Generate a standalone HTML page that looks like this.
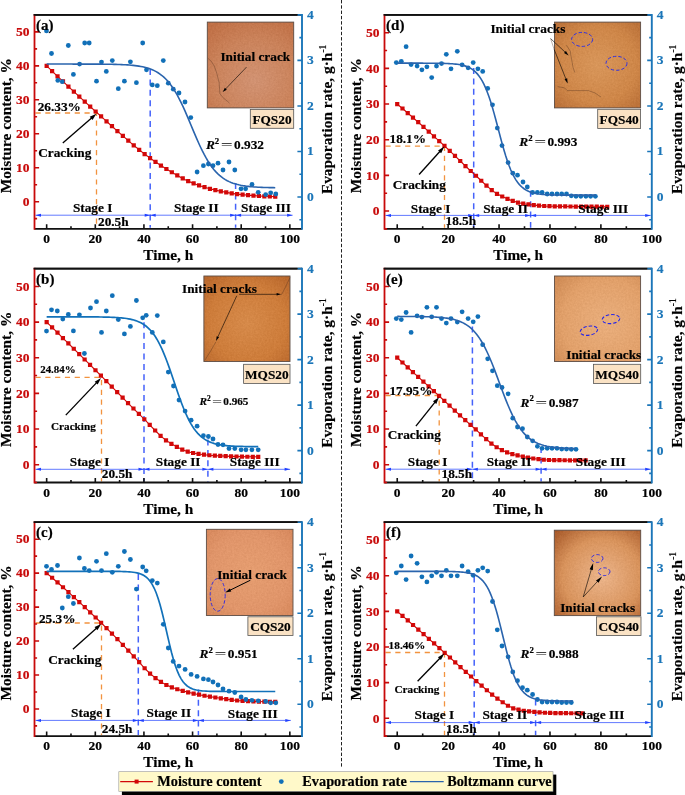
<!DOCTYPE html>
<html><head><meta charset="utf-8"><title>Moisture content and evaporation rate</title>
<style>html,body{margin:0;padding:0;background:#fff}svg{display:block}text{font-family:"Liberation Serif","Times New Roman",serif;font-weight:bold}</style>
</head><body>
<svg width="685" height="795" viewBox="0 0 685 795">
<rect width="685" height="795" fill="#fff"/>
<g id="panel-a">
<defs><radialGradient id="ga" cx="0.55" cy="0.68" r="0.8"><stop offset="0" stop-color="#d19272"/><stop offset="0.6" stop-color="#ca825a"/><stop offset="1" stop-color="#c07046"/></radialGradient></defs>
<filter id="ta" x="0" y="0" width="1" height="1" color-interpolation-filters="sRGB"><feTurbulence type="fractalNoise" baseFrequency="0.55" numOctaves="3" seed="3"/><feColorMatrix type="matrix" values="1 0 0 0 0  1 0 0 0 0  1 0 0 0 0  0 0 0 0 1" result="n"/><feComposite in="SourceGraphic" in2="n" operator="arithmetic" k1="0" k2="1" k3="0.07" k4="-0.035"/></filter>
<rect x="207.3" y="22.1" width="86.4" height="85.8" fill="url(#ga)" filter="url(#ta)"/>
<rect x="207.3" y="22.1" width="86.4" height="85.8" fill="none" stroke="#5e4e46" stroke-width="0.9"/>
<path d="M207.8 58.2Q212 61 214.3 66.2T219.1 82.3L219.9 93.5Q222 97 224.7 99.1T229.5 103.1" fill="none" stroke="#4a2a1a" stroke-width="0.6" opacity="0.6"/>
<rect x="250.3" y="109.4" width="43.4" height="18.9" fill="#fae2c4" stroke="#555" stroke-width="0.8"/>
<text x="272" y="123.5" font-size="13.3" text-anchor="middle" fill="#000" stroke="#000" stroke-width="0.18" >FQS20</text>
<path d="M35.5 113H96.5V227.85" fill="none" stroke="#f2933f" stroke-width="1.3" stroke-dasharray="5.2 4.6"/>
<line x1="150.2" y1="69" x2="150.2" y2="227.85" stroke="#4562fa" stroke-width="1.5" stroke-dasharray="6 4.4"/>
<line x1="235.6" y1="183" x2="235.6" y2="227.85" stroke="#4562fa" stroke-width="1.5" stroke-dasharray="6 4.4"/>
<line x1="35.5" y1="215.2" x2="292.6" y2="215.2" stroke="#2040ff" stroke-width="0.7"/>
<polygon points="35.5,215.2 41,213.7 41,216.7" fill="#2040ff"/>
<polygon points="150.2,215.2 144.7,216.7 144.7,213.7" fill="#2040ff"/>
<polygon points="150.2,215.2 155.7,213.7 155.7,216.7" fill="#2040ff"/>
<polygon points="235.6,215.2 230.1,216.7 230.1,213.7" fill="#2040ff"/>
<polygon points="235.6,215.2 241.1,213.7 241.1,216.7" fill="#2040ff"/>
<polygon points="292.6,215.2 287.1,216.7 287.1,213.7" fill="#2040ff"/>
<polyline points="46.66,65.84 52.1,71.08 57.54,76.28 62.99,81.44 68.43,86.55 73.87,91.63 79.31,96.66 84.76,101.65 90.2,106.59 95.64,111.49 101.09,116.37 106.53,121.29 111.97,126.22 117.41,131.12 122.86,135.95 128.3,140.7 133.74,145.32 139.18,149.78 144.63,154.06 150.07,158.12 155.51,161.96 160.95,165.58 166.4,168.99 171.84,172.23 177.28,175.41 182.73,178.42 188.17,181.13 193.61,183.41 199.05,185.4 204.5,187.19 209.94,188.78 215.38,190.14 220.82,191.31 226.27,192.39 231.71,193.34 237.15,194.12 242.59,194.68 248.04,195.16 253.48,195.61 258.92,196 264.36,196.31 269.81,196.51 275.25,196.59" fill="none" stroke="#d20808" stroke-width="1.1"/>
<path d="M44.56 63.74h4.2v4.2h-4.2zM50 68.98h4.2v4.2h-4.2zM55.44 74.18h4.2v4.2h-4.2zM60.89 79.34h4.2v4.2h-4.2zM66.33 84.45h4.2v4.2h-4.2zM71.77 89.53h4.2v4.2h-4.2zM77.21 94.56h4.2v4.2h-4.2zM82.66 99.55h4.2v4.2h-4.2zM88.1 104.49h4.2v4.2h-4.2zM93.54 109.39h4.2v4.2h-4.2zM98.99 114.27h4.2v4.2h-4.2zM104.43 119.19h4.2v4.2h-4.2zM109.87 124.12h4.2v4.2h-4.2zM115.31 129.02h4.2v4.2h-4.2zM120.76 133.85h4.2v4.2h-4.2zM126.2 138.6h4.2v4.2h-4.2zM131.64 143.22h4.2v4.2h-4.2zM137.08 147.68h4.2v4.2h-4.2zM142.53 151.96h4.2v4.2h-4.2zM147.97 156.02h4.2v4.2h-4.2zM153.41 159.86h4.2v4.2h-4.2zM158.85 163.48h4.2v4.2h-4.2zM164.3 166.89h4.2v4.2h-4.2zM169.74 170.13h4.2v4.2h-4.2zM175.18 173.31h4.2v4.2h-4.2zM180.63 176.32h4.2v4.2h-4.2zM186.07 179.03h4.2v4.2h-4.2zM191.51 181.31h4.2v4.2h-4.2zM196.95 183.3h4.2v4.2h-4.2zM202.4 185.09h4.2v4.2h-4.2zM207.84 186.68h4.2v4.2h-4.2zM213.28 188.04h4.2v4.2h-4.2zM218.72 189.21h4.2v4.2h-4.2zM224.17 190.29h4.2v4.2h-4.2zM229.61 191.24h4.2v4.2h-4.2zM235.05 192.02h4.2v4.2h-4.2zM240.49 192.58h4.2v4.2h-4.2zM245.94 193.06h4.2v4.2h-4.2zM251.38 193.51h4.2v4.2h-4.2zM256.82 193.9h4.2v4.2h-4.2zM262.26 194.21h4.2v4.2h-4.2zM267.71 194.41h4.2v4.2h-4.2zM273.15 194.49h4.2v4.2h-4.2z" fill="#d20808"/>
<g fill="#1170b8">
<circle cx="46.5" cy="30.9" r="2.4"/>
<circle cx="51.5" cy="53.5" r="2.4"/>
<circle cx="57.8" cy="80.4" r="2.4"/>
<circle cx="62.3" cy="81.7" r="2.4"/>
<circle cx="68.3" cy="45.5" r="2.4"/>
<circle cx="73.4" cy="74.4" r="2.4"/>
<circle cx="79.6" cy="64.1" r="2.4"/>
<circle cx="84.7" cy="43" r="2.4"/>
<circle cx="89.2" cy="43" r="2.4"/>
<circle cx="96.5" cy="81.2" r="2.4"/>
<circle cx="101.5" cy="62.1" r="2.4"/>
<circle cx="106.3" cy="71.4" r="2.4"/>
<circle cx="112.3" cy="60.6" r="2.4"/>
<circle cx="118.3" cy="88.7" r="2.4"/>
<circle cx="124.4" cy="81.2" r="2.4"/>
<circle cx="130.4" cy="61.8" r="2.4"/>
<circle cx="136.4" cy="82.7" r="2.4"/>
<circle cx="142.7" cy="43" r="2.4"/>
<circle cx="146.5" cy="69.8" r="2.4"/>
<circle cx="152.3" cy="84.9" r="2.4"/>
<circle cx="157.3" cy="85.7" r="2.4"/>
<circle cx="163.3" cy="60.6" r="2.4"/>
<circle cx="168.3" cy="83.2" r="2.4"/>
<circle cx="173.3" cy="89.2" r="2.4"/>
<circle cx="179" cy="93" r="2.4"/>
<circle cx="185" cy="102" r="2.4"/>
<circle cx="190.8" cy="117.6" r="2.4"/>
<circle cx="197.1" cy="172" r="2.4"/>
<circle cx="203.4" cy="165.7" r="2.4"/>
<circle cx="208.4" cy="164" r="2.4"/>
<circle cx="213" cy="165.7" r="2.4"/>
<circle cx="218" cy="163.2" r="2.4"/>
<circle cx="223" cy="170" r="2.4"/>
<circle cx="229" cy="162" r="2.4"/>
<circle cx="234.8" cy="170" r="2.4"/>
<circle cx="241" cy="188.8" r="2.4"/>
<circle cx="245.6" cy="188.8" r="2.4"/>
<circle cx="252" cy="184.5" r="2.4"/>
<circle cx="258.2" cy="192.3" r="2.4"/>
<circle cx="265.7" cy="194.6" r="2.4"/>
<circle cx="270.7" cy="192.8" r="2.4"/>
<circle cx="275.8" cy="194" r="2.4"/>
</g>
<polyline points="46.66,64.06 48.58,64.06 50.5,64.07 52.42,64.07 54.34,64.07 56.26,64.07 58.18,64.07 60.11,64.07 62.03,64.07 63.95,64.07 65.87,64.07 67.79,64.07 69.71,64.07 71.63,64.07 73.55,64.08 75.47,64.08 77.39,64.08 79.31,64.08 81.24,64.09 83.16,64.09 85.08,64.1 87,64.1 88.92,64.11 90.84,64.11 92.76,64.12 94.68,64.13 96.6,64.14 98.52,64.16 100.45,64.17 102.37,64.19 104.29,64.21 106.21,64.23 108.13,64.26 110.05,64.29 111.97,64.32 113.89,64.37 115.81,64.41 117.73,64.47 119.65,64.54 121.58,64.61 123.5,64.7 125.42,64.8 127.34,64.92 129.26,65.06 131.18,65.21 133.1,65.4 135.02,65.61 136.94,65.85 138.86,66.14 140.78,66.46 142.71,66.84 144.63,67.28 146.55,67.78 148.47,68.35 150.39,69.01 152.31,69.77 154.23,70.64 156.15,71.64 158.07,72.77 159.99,74.05 161.92,75.51 163.84,77.16 165.76,79.01 167.68,81.08 169.6,83.39 171.52,85.94 173.44,88.76 175.36,91.84 177.28,95.18 179.2,98.78 181.12,102.62 183.05,106.68 184.97,110.94 186.89,115.35 188.81,119.88 190.73,124.48 192.65,129.09 194.57,133.66 196.49,138.15 198.41,142.52 200.33,146.71 202.25,150.7 204.18,154.46 206.1,157.97 208.02,161.22 209.94,164.2 211.86,166.93 213.78,169.4 215.7,171.62 217.62,173.61 219.54,175.39 221.46,176.96 223.38,178.36 225.31,179.59 227.23,180.67 229.15,181.62 231.07,182.45 232.99,183.17 234.91,183.8 236.83,184.35 238.75,184.83 240.67,185.24 242.59,185.6 244.52,185.91 246.44,186.18 248.36,186.41 250.28,186.61 252.2,186.79 254.12,186.94 256.04,187.07 257.96,187.18 259.88,187.28 261.8,187.36 263.72,187.43 265.65,187.49 267.57,187.55 269.49,187.59 271.41,187.63 273.33,187.67 275.25,187.7" fill="none" stroke="#2a64ad" stroke-width="1.6"/>
<line x1="34.5" y1="14.9" x2="302" y2="14.9" stroke="#111" stroke-width="1.7"/>
<line x1="34.5" y1="228.85" x2="302" y2="228.85" stroke="#111" stroke-width="1.8"/>
<path d="M46.66 228.85v-4.5M70.98 228.85v-2.5M95.3 228.85v-4.5M119.61 228.85v-2.5M143.93 228.85v-4.5M168.25 228.85v-2.5M192.57 228.85v-4.5M216.89 228.85v-2.5M241.2 228.85v-4.5M265.52 228.85v-2.5M289.84 228.85v-4.5" stroke="#111" stroke-width="1.6" fill="none"/>
<text x="46.66" y="242.85" font-size="13.5" text-anchor="middle" fill="#000" stroke="#000" stroke-width="0.18" >0</text>
<text x="95.3" y="242.85" font-size="13.5" text-anchor="middle" fill="#000" stroke="#000" stroke-width="0.18" >20</text>
<text x="143.93" y="242.85" font-size="13.5" text-anchor="middle" fill="#000" stroke="#000" stroke-width="0.18" >40</text>
<text x="192.57" y="242.85" font-size="13.5" text-anchor="middle" fill="#000" stroke="#000" stroke-width="0.18" >60</text>
<text x="241.2" y="242.85" font-size="13.5" text-anchor="middle" fill="#000" stroke="#000" stroke-width="0.18" >80</text>
<text x="289.84" y="242.85" font-size="13.5" text-anchor="middle" fill="#000" stroke="#000" stroke-width="0.18" >100</text>
<text x="168.25" y="260.05" font-size="15.3" text-anchor="middle" fill="#000" stroke="#000" stroke-width="0.18" >Time, h</text>
<line x1="34.5" y1="14.05" x2="34.5" y2="229.75" stroke="#c80a0a" stroke-width="1.8"/>
<path d="M34.5 218.66h2.6M34.5 201.68h4.6M34.5 184.7h2.6M34.5 167.72h4.6M34.5 150.74h2.6M34.5 133.76h4.6M34.5 116.78h2.6M34.5 99.8h4.6M34.5 82.82h2.6M34.5 65.84h4.6M34.5 48.86h2.6M34.5 31.88h4.6" stroke="#c80a0a" stroke-width="1.6" fill="none"/>
<text x="29.5" y="205.98" font-size="13.5" text-anchor="end" fill="#c80a0a" stroke="#c80a0a" stroke-width="0.18" >0</text>
<text x="29.5" y="172.02" font-size="13.5" text-anchor="end" fill="#c80a0a" stroke="#c80a0a" stroke-width="0.18" >10</text>
<text x="29.5" y="138.06" font-size="13.5" text-anchor="end" fill="#c80a0a" stroke="#c80a0a" stroke-width="0.18" >20</text>
<text x="29.5" y="104.1" font-size="13.5" text-anchor="end" fill="#c80a0a" stroke="#c80a0a" stroke-width="0.18" >30</text>
<text x="29.5" y="70.14" font-size="13.5" text-anchor="end" fill="#c80a0a" stroke="#c80a0a" stroke-width="0.18" >40</text>
<text x="29.5" y="36.18" font-size="13.5" text-anchor="end" fill="#c80a0a" stroke="#c80a0a" stroke-width="0.18" >50</text>
<text x="10.8" y="125.67" font-size="15.4" text-anchor="middle" fill="#000" stroke="#000" stroke-width="0.18" transform="rotate(-90 10.8 125.67)">Moisture content, %</text>
<line x1="302" y1="14.05" x2="302" y2="229.75" stroke="#1b76b9" stroke-width="1.9"/>
<path d="M302 219.75h-2.6M302 196.99h-4.6M302 174.22h-2.6M302 151.46h-4.6M302 128.7h-2.6M302 105.94h-4.6M302 83.18h-2.6M302 60.42h-4.6M302 37.66h-2.6M302 14.9h-4.6" stroke="#1b76b9" stroke-width="1.6" fill="none"/>
<text x="307" y="200.89" font-size="13.5" text-anchor="start" fill="#1b76b9" stroke="#1b76b9" stroke-width="0.18" >0</text>
<text x="307" y="155.36" font-size="13.5" text-anchor="start" fill="#1b76b9" stroke="#1b76b9" stroke-width="0.18" >1</text>
<text x="307" y="109.84" font-size="13.5" text-anchor="start" fill="#1b76b9" stroke="#1b76b9" stroke-width="0.18" >2</text>
<text x="307" y="64.32" font-size="13.5" text-anchor="start" fill="#1b76b9" stroke="#1b76b9" stroke-width="0.18" >3</text>
<text x="307" y="18.8" font-size="13.5" text-anchor="start" fill="#1b76b9" stroke="#1b76b9" stroke-width="0.18" >4</text>
<text x="332" y="119.38" font-size="15.4" text-anchor="middle" fill="#000" stroke="#000" stroke-width="0.18" transform="rotate(-90 332 119.38)">Evaporation rate, g·h<tspan dy="-6.2" font-size="9.5" font-weight="normal">-1</tspan></text>
<line x1="33.6" y1="14.9" x2="297.4" y2="14.9" stroke="#111" stroke-width="1.8"/>
<text x="36.1" y="30" font-size="15" text-anchor="start" fill="#000" stroke="#000" stroke-width="0.18" >(a)</text>
<text x="37.7" y="110.5" font-size="13.3" text-anchor="start" fill="#000" stroke="#000" stroke-width="0.18" >26.33%</text>
<text x="38.2" y="157.4" font-size="13.3" text-anchor="start" fill="#000" stroke="#000" stroke-width="0.18" >Cracking</text>
<text x="72.9" y="212.1" font-size="13.3" text-anchor="start" fill="#000" stroke="#000" stroke-width="0.18" >Stage I</text>
<text x="98" y="226" font-size="13.3" text-anchor="start" fill="#000" stroke="#000" stroke-width="0.18" >20.5h</text>
<text x="174" y="212.1" font-size="13.3" text-anchor="start" fill="#000" stroke="#000" stroke-width="0.18" >Stage II</text>
<text x="241.1" y="212.1" font-size="13.3" text-anchor="start" fill="#000" stroke="#000" stroke-width="0.18" >Stage III</text>
<text x="220.4" y="60.6" font-size="13.3" text-anchor="start" fill="#000" stroke="#000" stroke-width="0.18" >Initial crack</text>
<line x1="62.8" y1="143" x2="91.87" y2="117.74" stroke="#000" stroke-width="1.35"/>
<polygon points="96.4,113.8 92.49,119.98 89.74,116.81" fill="#000"/>
<line x1="246.5" y1="67.1" x2="225.12" y2="89.47" stroke="#000" stroke-width="0.6"/>
<polygon points="222.7,92 224.87,87.85 226.75,89.65" fill="#000"/>
<text x="205.9" y="149.3" font-size="13.3" text-anchor="start" fill="#000" stroke="#000" stroke-width="0.18" ><tspan font-style="italic">R</tspan><tspan dy="-5.32" font-size="8.78">2</tspan><tspan dy="5.32" dx="1.6" font-weight="normal" stroke="none" textLength="11.97" lengthAdjust="spacingAndGlyphs">=</tspan><tspan dx="1.33">0.932</tspan></text>
</g>
<g id="panel-d">
<defs><radialGradient id="gd" cx="0.5" cy="0.5" r="0.75"><stop offset="0" stop-color="#d8965a"/><stop offset="0.6" stop-color="#ce8648"/><stop offset="1" stop-color="#b46a34"/></radialGradient></defs>
<filter id="td" x="0" y="0" width="1" height="1" color-interpolation-filters="sRGB"><feTurbulence type="fractalNoise" baseFrequency="0.55" numOctaves="3" seed="3"/><feColorMatrix type="matrix" values="1 0 0 0 0  1 0 0 0 0  1 0 0 0 0  0 0 0 0 1" result="n"/><feComposite in="SourceGraphic" in2="n" operator="arithmetic" k1="0" k2="1" k3="0.07" k4="-0.035"/></filter>
<rect x="554.5" y="22.1" width="86.1" height="85.8" fill="url(#gd)" filter="url(#td)"/>
<rect x="554.5" y="22.1" width="86.1" height="85.8" fill="none" stroke="#5e4e46" stroke-width="0.9"/>
<path d="M566.4 45.2L570.4 51.4L570.8 54.9L573 67.3L574.8 72.5" fill="none" stroke="#4a2a1a" stroke-width="0.6" opacity="0.6"/>
<path d="M557.6 86.6L564.6 87.9L567.3 90.6L588.4 90.6Q595 92 601 97" fill="none" stroke="#4a2a1a" stroke-width="0.6" opacity="0.6"/>
<path d="M550.6 38.6L554.2 49.5" fill="none" stroke="#4a2a1a" stroke-width="0.6" opacity="0.6"/>
<ellipse cx="582.1" cy="39.4" rx="10.5" ry="7" transform="rotate(0 582.1 39.4)" fill="none" stroke="#3030e0" stroke-width="1.0" stroke-dasharray="3.4 2"/>
<ellipse cx="616.5" cy="63.3" rx="10.5" ry="7" transform="rotate(0 616.5 63.3)" fill="none" stroke="#3030e0" stroke-width="1.0" stroke-dasharray="3.4 2"/>
<rect x="597.7" y="109.3" width="42.9" height="19.1" fill="#fae2c4" stroke="#555" stroke-width="0.8"/>
<text x="619.15" y="123.6" font-size="13.3" text-anchor="middle" fill="#000" stroke="#000" stroke-width="0.18" >FQS40</text>
<path d="M385.5 146.1H444.5V227.85" fill="none" stroke="#f2933f" stroke-width="1.3" stroke-dasharray="5.2 4.6"/>
<line x1="473.7" y1="68" x2="473.7" y2="227.85" stroke="#4562fa" stroke-width="1.5" stroke-dasharray="6 4.4"/>
<line x1="530.6" y1="190.8" x2="530.6" y2="227.85" stroke="#4562fa" stroke-width="1.5" stroke-dasharray="6 4.4"/>
<line x1="385.5" y1="215.4" x2="650.7" y2="215.4" stroke="#2040ff" stroke-width="0.7"/>
<polygon points="385.5,215.4 391,213.9 391,216.9" fill="#2040ff"/>
<polygon points="473.7,215.4 468.2,216.9 468.2,213.9" fill="#2040ff"/>
<polygon points="473.7,215.4 479.2,213.9 479.2,216.9" fill="#2040ff"/>
<polygon points="530.6,215.4 525.1,216.9 525.1,213.9" fill="#2040ff"/>
<polygon points="530.6,215.4 536.1,213.9 536.1,216.9" fill="#2040ff"/>
<polygon points="650.7,215.4 645.2,216.9 645.2,213.9" fill="#2040ff"/>
<polyline points="397.23,104.05 402.48,108.52 407.73,113.04 412.98,117.61 418.23,122.22 423.48,126.88 428.73,131.58 433.98,136.32 439.23,141.1 444.48,145.91 449.73,150.84 454.98,155.91 460.24,161.01 465.49,166.07 470.74,170.99 475.99,175.75 481.24,180.74 486.49,185.68 491.74,190.18 496.99,193.85 502.24,196.51 507.49,198.86 512.74,200.89 517.99,202.53 523.24,203.69 528.49,204.44 533.74,205.08 538.99,205.61 544.24,205.99 549.49,206.2 554.74,206.29 560,206.38 565.25,206.46 570.5,206.52 575.75,206.58 581,206.63 586.25,206.67 591.5,206.7 596.75,206.72 602,206.74 607.25,206.74" fill="none" stroke="#d20808" stroke-width="1.1"/>
<path d="M395.13 101.95h4.2v4.2h-4.2zM400.38 106.42h4.2v4.2h-4.2zM405.63 110.94h4.2v4.2h-4.2zM410.88 115.51h4.2v4.2h-4.2zM416.13 120.12h4.2v4.2h-4.2zM421.38 124.78h4.2v4.2h-4.2zM426.63 129.48h4.2v4.2h-4.2zM431.88 134.22h4.2v4.2h-4.2zM437.13 139h4.2v4.2h-4.2zM442.38 143.81h4.2v4.2h-4.2zM447.63 148.74h4.2v4.2h-4.2zM452.88 153.81h4.2v4.2h-4.2zM458.13 158.91h4.2v4.2h-4.2zM463.39 163.97h4.2v4.2h-4.2zM468.64 168.89h4.2v4.2h-4.2zM473.89 173.65h4.2v4.2h-4.2zM479.14 178.64h4.2v4.2h-4.2zM484.39 183.58h4.2v4.2h-4.2zM489.64 188.08h4.2v4.2h-4.2zM494.89 191.75h4.2v4.2h-4.2zM500.14 194.41h4.2v4.2h-4.2zM505.39 196.76h4.2v4.2h-4.2zM510.64 198.79h4.2v4.2h-4.2zM515.89 200.43h4.2v4.2h-4.2zM521.14 201.59h4.2v4.2h-4.2zM526.39 202.34h4.2v4.2h-4.2zM531.64 202.98h4.2v4.2h-4.2zM536.89 203.51h4.2v4.2h-4.2zM542.14 203.89h4.2v4.2h-4.2zM547.39 204.1h4.2v4.2h-4.2zM552.64 204.19h4.2v4.2h-4.2zM557.9 204.28h4.2v4.2h-4.2zM563.15 204.36h4.2v4.2h-4.2zM568.4 204.42h4.2v4.2h-4.2zM573.65 204.48h4.2v4.2h-4.2zM578.9 204.53h4.2v4.2h-4.2zM584.15 204.57h4.2v4.2h-4.2zM589.4 204.6h4.2v4.2h-4.2zM594.65 204.62h4.2v4.2h-4.2zM599.9 204.64h4.2v4.2h-4.2zM605.15 204.64h4.2v4.2h-4.2z" fill="#d20808"/>
<g fill="#1170b8">
<circle cx="396.3" cy="62.6" r="2.4"/>
<circle cx="401.3" cy="61.3" r="2.4"/>
<circle cx="406.1" cy="46.7" r="2.4"/>
<circle cx="411.1" cy="64.6" r="2.4"/>
<circle cx="417.1" cy="66.1" r="2.4"/>
<circle cx="421.9" cy="69.8" r="2.4"/>
<circle cx="426.9" cy="66.8" r="2.4"/>
<circle cx="431.7" cy="77.6" r="2.4"/>
<circle cx="436.5" cy="66.1" r="2.4"/>
<circle cx="441.5" cy="63.6" r="2.4"/>
<circle cx="446.3" cy="54.3" r="2.4"/>
<circle cx="451" cy="68.8" r="2.4"/>
<circle cx="457.3" cy="51.3" r="2.4"/>
<circle cx="462.1" cy="64.8" r="2.4"/>
<circle cx="468.1" cy="67.8" r="2.4"/>
<circle cx="473.2" cy="62.6" r="2.4"/>
<circle cx="477.9" cy="68.8" r="2.4"/>
<circle cx="482.7" cy="71.4" r="2.4"/>
<circle cx="487.7" cy="88.4" r="2.4"/>
<circle cx="492.5" cy="104.8" r="2.4"/>
<circle cx="497.3" cy="128.1" r="2.4"/>
<circle cx="502" cy="145.6" r="2.4"/>
<circle cx="508.1" cy="162.6" r="2.4"/>
<circle cx="512.8" cy="173.2" r="2.4"/>
<circle cx="517.5" cy="175.2" r="2.4"/>
<circle cx="523" cy="182" r="2.4"/>
<circle cx="527.3" cy="187" r="2.4"/>
<circle cx="532.6" cy="192.5" r="2.4"/>
<circle cx="537.4" cy="192.3" r="2.4"/>
<circle cx="542.1" cy="192.3" r="2.4"/>
<circle cx="547.2" cy="194" r="2.4"/>
<circle cx="552" cy="194" r="2.4"/>
<circle cx="557" cy="194" r="2.4"/>
<circle cx="561.7" cy="194" r="2.4"/>
<circle cx="566.5" cy="194" r="2.4"/>
<circle cx="571.3" cy="195.8" r="2.4"/>
<circle cx="576" cy="196.3" r="2.4"/>
<circle cx="580.8" cy="196.3" r="2.4"/>
<circle cx="585.9" cy="196.3" r="2.4"/>
<circle cx="590.6" cy="196.3" r="2.4"/>
<circle cx="595.4" cy="196.3" r="2.4"/>
</g>
<polyline points="397.23,63.15 398.9,63.15 400.57,63.15 402.23,63.15 403.9,63.15 405.57,63.16 407.24,63.16 408.91,63.16 410.58,63.16 412.25,63.16 413.91,63.16 415.58,63.16 417.25,63.16 418.92,63.17 420.59,63.17 422.26,63.17 423.93,63.18 425.6,63.18 427.26,63.19 428.93,63.2 430.6,63.21 432.27,63.22 433.94,63.23 435.61,63.25 437.28,63.27 438.94,63.29 440.61,63.32 442.28,63.36 443.95,63.4 445.62,63.45 447.29,63.52 448.96,63.59 450.62,63.69 452.29,63.8 453.96,63.94 455.63,64.1 457.3,64.3 458.97,64.54 460.64,64.83 462.3,65.19 463.97,65.61 465.64,66.12 467.31,66.73 468.98,67.47 470.65,68.35 472.32,69.41 473.99,70.66 475.65,72.15 477.32,73.9 478.99,75.97 480.66,78.38 482.33,81.17 484,84.39 485.67,88.05 487.33,92.18 489,96.78 490.67,101.84 492.34,107.31 494.01,113.15 495.68,119.26 497.35,125.55 499.01,131.91 500.68,138.21 502.35,144.35 504.02,150.23 505.69,155.76 507.36,160.87 509.03,165.54 510.69,169.73 512.36,173.46 514.03,176.73 515.7,179.58 517.37,182.04 519.04,184.15 520.71,185.95 522.38,187.47 524.04,188.75 525.71,189.83 527.38,190.74 529.05,191.49 530.72,192.12 532.39,192.64 534.06,193.08 535.72,193.44 537.39,193.74 539.06,193.99 540.73,194.19 542.4,194.36 544.07,194.5 545.74,194.62 547.4,194.71 549.07,194.79 550.74,194.86 552.41,194.91 554.08,194.95 555.75,194.99 557.42,195.02 559.08,195.05 560.75,195.07 562.42,195.08 564.09,195.1 565.76,195.11 567.43,195.12 569.1,195.13 570.76,195.13 572.43,195.14 574.1,195.14 575.77,195.15 577.44,195.15 579.11,195.15 580.78,195.15 582.45,195.16 584.11,195.16 585.78,195.16 587.45,195.16 589.12,195.16 590.79,195.16 592.46,195.16 594.13,195.16 595.79,195.16" fill="none" stroke="#2a64ad" stroke-width="1.6"/>
<line x1="384.5" y1="14.9" x2="651.8" y2="14.9" stroke="#111" stroke-width="1.7"/>
<line x1="384.5" y1="228.85" x2="651.8" y2="228.85" stroke="#111" stroke-width="1.8"/>
<path d="M397.23 228.85v-4.5M422.69 228.85v-2.5M448.14 228.85v-4.5M473.6 228.85v-2.5M499.06 228.85v-4.5M524.51 228.85v-2.5M549.97 228.85v-4.5M575.43 228.85v-2.5M600.89 228.85v-4.5M626.34 228.85v-2.5" stroke="#111" stroke-width="1.6" fill="none"/>
<text x="397.23" y="242.85" font-size="13.5" text-anchor="middle" fill="#000" stroke="#000" stroke-width="0.18" >0</text>
<text x="448.14" y="242.85" font-size="13.5" text-anchor="middle" fill="#000" stroke="#000" stroke-width="0.18" >20</text>
<text x="499.06" y="242.85" font-size="13.5" text-anchor="middle" fill="#000" stroke="#000" stroke-width="0.18" >40</text>
<text x="549.97" y="242.85" font-size="13.5" text-anchor="middle" fill="#000" stroke="#000" stroke-width="0.18" >60</text>
<text x="600.89" y="242.85" font-size="13.5" text-anchor="middle" fill="#000" stroke="#000" stroke-width="0.18" >80</text>
<text x="651.8" y="242.85" font-size="13.5" text-anchor="middle" fill="#000" stroke="#000" stroke-width="0.18" >100</text>
<text x="518.15" y="260.05" font-size="15.3" text-anchor="middle" fill="#000" stroke="#000" stroke-width="0.18" >Time, h</text>
<line x1="384.5" y1="14.05" x2="384.5" y2="229.75" stroke="#c80a0a" stroke-width="1.8"/>
<path d="M384.5 228.85h2.6M384.5 211.02h4.6M384.5 193.19h2.6M384.5 175.36h4.6M384.5 157.53h2.6M384.5 139.7h4.6M384.5 121.88h2.6M384.5 104.05h4.6M384.5 86.22h2.6M384.5 68.39h4.6M384.5 50.56h2.6M384.5 32.73h4.6" stroke="#c80a0a" stroke-width="1.6" fill="none"/>
<text x="379.5" y="215.32" font-size="13.5" text-anchor="end" fill="#c80a0a" stroke="#c80a0a" stroke-width="0.18" >0</text>
<text x="379.5" y="179.66" font-size="13.5" text-anchor="end" fill="#c80a0a" stroke="#c80a0a" stroke-width="0.18" >10</text>
<text x="379.5" y="144" font-size="13.5" text-anchor="end" fill="#c80a0a" stroke="#c80a0a" stroke-width="0.18" >20</text>
<text x="379.5" y="108.35" font-size="13.5" text-anchor="end" fill="#c80a0a" stroke="#c80a0a" stroke-width="0.18" >30</text>
<text x="379.5" y="72.69" font-size="13.5" text-anchor="end" fill="#c80a0a" stroke="#c80a0a" stroke-width="0.18" >40</text>
<text x="379.5" y="37.03" font-size="13.5" text-anchor="end" fill="#c80a0a" stroke="#c80a0a" stroke-width="0.18" >50</text>
<text x="360.8" y="125.67" font-size="15.4" text-anchor="middle" fill="#000" stroke="#000" stroke-width="0.18" transform="rotate(-90 360.8 125.67)">Moisture content, %</text>
<line x1="651.8" y1="14.05" x2="651.8" y2="229.75" stroke="#1b76b9" stroke-width="1.9"/>
<path d="M651.8 219.75h-2.6M651.8 196.99h-4.6M651.8 174.22h-2.6M651.8 151.46h-4.6M651.8 128.7h-2.6M651.8 105.94h-4.6M651.8 83.18h-2.6M651.8 60.42h-4.6M651.8 37.66h-2.6M651.8 14.9h-4.6" stroke="#1b76b9" stroke-width="1.6" fill="none"/>
<text x="656.8" y="200.89" font-size="13.5" text-anchor="start" fill="#1b76b9" stroke="#1b76b9" stroke-width="0.18" >0</text>
<text x="656.8" y="155.36" font-size="13.5" text-anchor="start" fill="#1b76b9" stroke="#1b76b9" stroke-width="0.18" >1</text>
<text x="656.8" y="109.84" font-size="13.5" text-anchor="start" fill="#1b76b9" stroke="#1b76b9" stroke-width="0.18" >2</text>
<text x="656.8" y="64.32" font-size="13.5" text-anchor="start" fill="#1b76b9" stroke="#1b76b9" stroke-width="0.18" >3</text>
<text x="656.8" y="18.8" font-size="13.5" text-anchor="start" fill="#1b76b9" stroke="#1b76b9" stroke-width="0.18" >4</text>
<text x="681.8" y="119.38" font-size="15.4" text-anchor="middle" fill="#000" stroke="#000" stroke-width="0.18" transform="rotate(-90 681.8 119.38)">Evaporation rate, g·h<tspan dy="-6.2" font-size="9.5" font-weight="normal">-1</tspan></text>
<line x1="383.6" y1="14.9" x2="647.2" y2="14.9" stroke="#111" stroke-width="1.8"/>
<text x="386.1" y="30" font-size="15" text-anchor="start" fill="#000" stroke="#000" stroke-width="0.18" >(d)</text>
<text x="389.5" y="143" font-size="13.3" text-anchor="start" fill="#000" stroke="#000" stroke-width="0.18" >18.1%</text>
<text x="392.7" y="188.8" font-size="13.3" text-anchor="start" fill="#000" stroke="#000" stroke-width="0.18" >Cracking</text>
<text x="410.8" y="212.9" font-size="13.3" text-anchor="start" fill="#000" stroke="#000" stroke-width="0.18" >Stage I</text>
<text x="445.5" y="224.7" font-size="13.3" text-anchor="start" fill="#000" stroke="#000" stroke-width="0.18" >18.5h</text>
<text x="483.2" y="212.9" font-size="13.3" text-anchor="start" fill="#000" stroke="#000" stroke-width="0.18" >Stage II</text>
<text x="578.3" y="212.9" font-size="13.3" text-anchor="start" fill="#000" stroke="#000" stroke-width="0.18" >Stage III</text>
<text x="490.4" y="32.7" font-size="13.3" text-anchor="start" fill="#000" stroke="#000" stroke-width="0.18" >Initial cracks</text>
<line x1="419.1" y1="174.5" x2="440.28" y2="151.05" stroke="#000" stroke-width="1.35"/>
<polygon points="444.3,146.6 441.17,153.2 438.05,150.39" fill="#000"/>
<line x1="550.6" y1="38.6" x2="565.68" y2="52.67" stroke="#000" stroke-width="0.6"/>
<polygon points="568.6,55.4 563.99,53.01 565.9,50.96" fill="#000"/>
<line x1="554.2" y1="49.5" x2="566.22" y2="79.78" stroke="#000" stroke-width="0.6"/>
<polygon points="567.7,83.5 564.55,79.37 567.16,78.34" fill="#000"/>
<text x="519.3" y="146" font-size="13.3" text-anchor="start" fill="#000" stroke="#000" stroke-width="0.18" ><tspan font-style="italic">R</tspan><tspan dy="-5.32" font-size="8.78">2</tspan><tspan dy="5.32" dx="1.6" font-weight="normal" stroke="none" textLength="11.97" lengthAdjust="spacingAndGlyphs">=</tspan><tspan dx="1.33">0.993</tspan></text>
</g>
<g id="panel-b">
<defs><radialGradient id="gb" cx="0.5" cy="0.55" r="0.75"><stop offset="0" stop-color="#d68a4a"/><stop offset="0.6" stop-color="#cd7c3a"/><stop offset="1" stop-color="#b5642a"/></radialGradient></defs>
<filter id="tb" x="0" y="0" width="1" height="1" color-interpolation-filters="sRGB"><feTurbulence type="fractalNoise" baseFrequency="0.55" numOctaves="3" seed="3"/><feColorMatrix type="matrix" values="1 0 0 0 0  1 0 0 0 0  1 0 0 0 0  0 0 0 0 1" result="n"/><feComposite in="SourceGraphic" in2="n" operator="arithmetic" k1="0" k2="1" k3="0.07" k4="-0.035"/></filter>
<rect x="203.9" y="276" width="86.1" height="85.5" fill="url(#gb)" filter="url(#tb)"/>
<rect x="203.9" y="276" width="86.1" height="85.5" fill="none" stroke="#5e4e46" stroke-width="0.9"/>
<path d="M281.3 295c3-5 6-12 8.7-17.4" fill="none" stroke="#4a2a1a" stroke-width="0.6" opacity="0.6"/>
<path d="M204.7 360.5c4-6 8-13 11.3-18.8" fill="none" stroke="#4a2a1a" stroke-width="0.6" opacity="0.6"/>
<rect x="243.6" y="364.3" width="46.4" height="19.3" fill="#fae2c4" stroke="#555" stroke-width="0.8"/>
<text x="266.8" y="378.8" font-size="13.3" text-anchor="middle" fill="#000" stroke="#000" stroke-width="0.18" >MQS20</text>
<path d="M35.5 377.4H101.5V481.5" fill="none" stroke="#f2933f" stroke-width="1.3" stroke-dasharray="5.2 4.6"/>
<line x1="144" y1="322.3" x2="144" y2="481.5" stroke="#4562fa" stroke-width="1.5" stroke-dasharray="6 4.4"/>
<line x1="207.9" y1="439.5" x2="207.9" y2="481.5" stroke="#4562fa" stroke-width="1.5" stroke-dasharray="6 4.4"/>
<line x1="35.5" y1="469.3" x2="290.1" y2="469.3" stroke="#2040ff" stroke-width="0.7"/>
<polygon points="35.5,469.3 41,467.8 41,470.8" fill="#2040ff"/>
<polygon points="144,469.3 138.5,470.8 138.5,467.8" fill="#2040ff"/>
<polygon points="144,469.3 149.5,467.8 149.5,470.8" fill="#2040ff"/>
<polygon points="207.9,469.3 202.4,470.8 202.4,467.8" fill="#2040ff"/>
<polygon points="207.9,469.3 213.4,467.8 213.4,470.8" fill="#2040ff"/>
<polygon points="290.1,469.3 284.6,470.8 284.6,467.8" fill="#2040ff"/>
<polyline points="46.66,322.08 52.08,327.39 57.51,332.71 62.93,338.05 68.36,343.39 73.78,348.74 79.21,354.11 84.63,359.48 90.06,364.86 95.48,370.25 100.91,375.65 106.33,381.09 111.76,386.56 117.18,392.07 122.61,397.58 128.03,403.07 133.46,408.52 138.88,413.92 144.31,419.23 149.73,424.78 155.16,430.49 160.58,435.84 166.01,440.35 171.43,443.78 176.85,446.87 182.28,449.55 187.7,451.66 193.13,453.01 198.55,453.93 203.98,454.68 209.4,455.25 214.83,455.66 220.25,455.91 225.68,456.13 231.1,456.33 236.53,456.5 241.95,456.64 247.38,456.74 252.8,456.81 258.23,456.83" fill="none" stroke="#d20808" stroke-width="1.1"/>
<path d="M44.56 319.98h4.2v4.2h-4.2zM49.98 325.29h4.2v4.2h-4.2zM55.41 330.61h4.2v4.2h-4.2zM60.83 335.95h4.2v4.2h-4.2zM66.26 341.29h4.2v4.2h-4.2zM71.68 346.64h4.2v4.2h-4.2zM77.11 352.01h4.2v4.2h-4.2zM82.53 357.38h4.2v4.2h-4.2zM87.96 362.76h4.2v4.2h-4.2zM93.38 368.15h4.2v4.2h-4.2zM98.81 373.55h4.2v4.2h-4.2zM104.23 378.99h4.2v4.2h-4.2zM109.66 384.46h4.2v4.2h-4.2zM115.08 389.97h4.2v4.2h-4.2zM120.51 395.48h4.2v4.2h-4.2zM125.93 400.97h4.2v4.2h-4.2zM131.36 406.42h4.2v4.2h-4.2zM136.78 411.82h4.2v4.2h-4.2zM142.21 417.13h4.2v4.2h-4.2zM147.63 422.68h4.2v4.2h-4.2zM153.06 428.39h4.2v4.2h-4.2zM158.48 433.74h4.2v4.2h-4.2zM163.91 438.25h4.2v4.2h-4.2zM169.33 441.68h4.2v4.2h-4.2zM174.75 444.77h4.2v4.2h-4.2zM180.18 447.45h4.2v4.2h-4.2zM185.6 449.56h4.2v4.2h-4.2zM191.03 450.91h4.2v4.2h-4.2zM196.45 451.83h4.2v4.2h-4.2zM201.88 452.58h4.2v4.2h-4.2zM207.3 453.15h4.2v4.2h-4.2zM212.73 453.56h4.2v4.2h-4.2zM218.15 453.81h4.2v4.2h-4.2zM223.58 454.03h4.2v4.2h-4.2zM229 454.23h4.2v4.2h-4.2zM234.43 454.4h4.2v4.2h-4.2zM239.85 454.54h4.2v4.2h-4.2zM245.28 454.64h4.2v4.2h-4.2zM250.7 454.71h4.2v4.2h-4.2zM256.13 454.73h4.2v4.2h-4.2z" fill="#d20808"/>
<g fill="#1170b8">
<circle cx="46.5" cy="331.1" r="2.4"/>
<circle cx="51.5" cy="309.8" r="2.4"/>
<circle cx="57.3" cy="311" r="2.4"/>
<circle cx="62.8" cy="319.1" r="2.4"/>
<circle cx="68.3" cy="314.5" r="2.4"/>
<circle cx="73.4" cy="330.9" r="2.4"/>
<circle cx="79.4" cy="314.8" r="2.4"/>
<circle cx="84.4" cy="353.5" r="2.4"/>
<circle cx="90.5" cy="308" r="2.4"/>
<circle cx="96.5" cy="301.7" r="2.4"/>
<circle cx="101.5" cy="332.4" r="2.4"/>
<circle cx="106.3" cy="311" r="2.4"/>
<circle cx="112.3" cy="295.7" r="2.4"/>
<circle cx="118.3" cy="319.6" r="2.4"/>
<circle cx="124.4" cy="333.9" r="2.4"/>
<circle cx="130.4" cy="326.4" r="2.4"/>
<circle cx="136.4" cy="300.5" r="2.4"/>
<circle cx="142.7" cy="317.8" r="2.4"/>
<circle cx="146.2" cy="315.3" r="2.4"/>
<circle cx="152.3" cy="332.4" r="2.4"/>
<circle cx="157.3" cy="315.6" r="2.4"/>
<circle cx="163.3" cy="341.9" r="2.4"/>
<circle cx="168.3" cy="372.1" r="2.4"/>
<circle cx="173.5" cy="386" r="2.4"/>
<circle cx="179" cy="400.1" r="2.4"/>
<circle cx="185.1" cy="411.1" r="2.4"/>
<circle cx="191.1" cy="420.2" r="2.4"/>
<circle cx="197.1" cy="426.2" r="2.4"/>
<circle cx="203.4" cy="435.7" r="2.4"/>
<circle cx="208.4" cy="436.5" r="2.4"/>
<circle cx="213" cy="439" r="2.4"/>
<circle cx="218" cy="444.5" r="2.4"/>
<circle cx="223" cy="444.8" r="2.4"/>
<circle cx="229" cy="448.6" r="2.4"/>
<circle cx="234.8" cy="448.6" r="2.4"/>
<circle cx="241.1" cy="449.8" r="2.4"/>
<circle cx="245.9" cy="449.8" r="2.4"/>
<circle cx="251.9" cy="449.8" r="2.4"/>
<circle cx="258.2" cy="449.8" r="2.4"/>
</g>
<polyline points="46.66,316.84 48.44,316.84 50.21,316.84 51.99,316.84 53.77,316.84 55.55,316.84 57.33,316.84 59.1,316.84 60.88,316.85 62.66,316.85 64.44,316.85 66.22,316.85 67.99,316.85 69.77,316.85 71.55,316.85 73.33,316.85 75.11,316.86 76.88,316.86 78.66,316.86 80.44,316.87 82.22,316.87 83.99,316.88 85.77,316.88 87.55,316.89 89.33,316.9 91.11,316.91 92.88,316.92 94.66,316.93 96.44,316.95 98.22,316.97 100,316.99 101.77,317.02 103.55,317.05 105.33,317.08 107.11,317.13 108.89,317.18 110.66,317.24 112.44,317.3 114.22,317.39 116,317.48 117.77,317.59 119.55,317.73 121.33,317.88 123.11,318.06 124.89,318.27 126.66,318.52 128.44,318.82 130.22,319.16 132,319.56 133.78,320.03 135.55,320.57 137.33,321.21 139.11,321.95 140.89,322.81 142.66,323.8 144.44,324.95 146.22,326.28 148,327.8 149.78,329.55 151.55,331.54 153.33,333.79 155.11,336.33 156.89,339.18 158.67,342.35 160.44,345.84 162.22,349.66 164,353.81 165.78,358.25 167.56,362.96 169.33,367.9 171.11,373.01 172.89,378.24 174.67,383.51 176.44,388.76 178.22,393.91 180,398.92 181.78,403.71 183.56,408.25 185.33,412.5 187.11,416.44 188.89,420.05 190.67,423.33 192.45,426.28 194.22,428.93 196,431.28 197.78,433.36 199.56,435.19 201.33,436.78 203.11,438.18 204.89,439.39 206.67,440.43 208.45,441.34 210.22,442.12 212,442.79 213.78,443.36 215.56,443.86 217.34,444.28 219.11,444.64 220.89,444.95 222.67,445.21 224.45,445.44 226.23,445.63 228,445.79 229.78,445.93 231.56,446.05 233.34,446.15 235.11,446.24 236.89,446.31 238.67,446.37 240.45,446.43 242.23,446.47 244,446.51 245.78,446.54 247.56,446.57 249.34,446.59 251.12,446.61 252.89,446.63 254.67,446.65 256.45,446.66 258.23,446.67" fill="none" stroke="#1271b9" stroke-width="1.7"/>
<line x1="34.5" y1="268.6" x2="302" y2="268.6" stroke="#111" stroke-width="1.7"/>
<line x1="34.5" y1="482.5" x2="302" y2="482.5" stroke="#111" stroke-width="1.8"/>
<path d="M46.66 482.5v-4.5M70.98 482.5v-2.5M95.3 482.5v-4.5M119.61 482.5v-2.5M143.93 482.5v-4.5M168.25 482.5v-2.5M192.57 482.5v-4.5M216.89 482.5v-2.5M241.2 482.5v-4.5M265.52 482.5v-2.5M289.84 482.5v-4.5" stroke="#111" stroke-width="1.6" fill="none"/>
<text x="46.66" y="496.5" font-size="13.5" text-anchor="middle" fill="#000" stroke="#000" stroke-width="0.18" >0</text>
<text x="95.3" y="496.5" font-size="13.5" text-anchor="middle" fill="#000" stroke="#000" stroke-width="0.18" >20</text>
<text x="143.93" y="496.5" font-size="13.5" text-anchor="middle" fill="#000" stroke="#000" stroke-width="0.18" >40</text>
<text x="192.57" y="496.5" font-size="13.5" text-anchor="middle" fill="#000" stroke="#000" stroke-width="0.18" >60</text>
<text x="241.2" y="496.5" font-size="13.5" text-anchor="middle" fill="#000" stroke="#000" stroke-width="0.18" >80</text>
<text x="289.84" y="496.5" font-size="13.5" text-anchor="middle" fill="#000" stroke="#000" stroke-width="0.18" >100</text>
<text x="168.25" y="513.7" font-size="15.3" text-anchor="middle" fill="#000" stroke="#000" stroke-width="0.18" >Time, h</text>
<line x1="34.5" y1="267.75" x2="34.5" y2="483.4" stroke="#c80a0a" stroke-width="1.8"/>
<path d="M34.5 482.5h2.6M34.5 464.68h4.6M34.5 446.85h2.6M34.5 429.02h4.6M34.5 411.2h2.6M34.5 393.38h4.6M34.5 375.55h2.6M34.5 357.73h4.6M34.5 339.9h2.6M34.5 322.08h4.6M34.5 304.25h2.6M34.5 286.43h4.6" stroke="#c80a0a" stroke-width="1.6" fill="none"/>
<text x="29.5" y="468.98" font-size="13.5" text-anchor="end" fill="#c80a0a" stroke="#c80a0a" stroke-width="0.18" >0</text>
<text x="29.5" y="433.32" font-size="13.5" text-anchor="end" fill="#c80a0a" stroke="#c80a0a" stroke-width="0.18" >10</text>
<text x="29.5" y="397.68" font-size="13.5" text-anchor="end" fill="#c80a0a" stroke="#c80a0a" stroke-width="0.18" >20</text>
<text x="29.5" y="362.03" font-size="13.5" text-anchor="end" fill="#c80a0a" stroke="#c80a0a" stroke-width="0.18" >30</text>
<text x="29.5" y="326.38" font-size="13.5" text-anchor="end" fill="#c80a0a" stroke="#c80a0a" stroke-width="0.18" >40</text>
<text x="29.5" y="290.73" font-size="13.5" text-anchor="end" fill="#c80a0a" stroke="#c80a0a" stroke-width="0.18" >50</text>
<text x="10.8" y="379.35" font-size="15.4" text-anchor="middle" fill="#000" stroke="#000" stroke-width="0.18" transform="rotate(-90 10.8 379.35)">Moisture content, %</text>
<line x1="302" y1="267.75" x2="302" y2="483.4" stroke="#1b76b9" stroke-width="1.9"/>
<path d="M302 473.4h-2.6M302 450.64h-4.6M302 427.89h-2.6M302 405.13h-4.6M302 382.38h-2.6M302 359.62h-4.6M302 336.87h-2.6M302 314.11h-4.6M302 291.36h-2.6M302 268.6h-4.6" stroke="#1b76b9" stroke-width="1.6" fill="none"/>
<text x="307" y="454.54" font-size="13.5" text-anchor="start" fill="#1b76b9" stroke="#1b76b9" stroke-width="0.18" >0</text>
<text x="307" y="409.03" font-size="13.5" text-anchor="start" fill="#1b76b9" stroke="#1b76b9" stroke-width="0.18" >1</text>
<text x="307" y="363.52" font-size="13.5" text-anchor="start" fill="#1b76b9" stroke="#1b76b9" stroke-width="0.18" >2</text>
<text x="307" y="318.01" font-size="13.5" text-anchor="start" fill="#1b76b9" stroke="#1b76b9" stroke-width="0.18" >3</text>
<text x="307" y="272.5" font-size="13.5" text-anchor="start" fill="#1b76b9" stroke="#1b76b9" stroke-width="0.18" >4</text>
<text x="332" y="373.05" font-size="15.4" text-anchor="middle" fill="#000" stroke="#000" stroke-width="0.18" transform="rotate(-90 332 373.05)">Evaporation rate, g·h<tspan dy="-6.2" font-size="9.5" font-weight="normal">-1</tspan></text>
<line x1="33.6" y1="268.6" x2="297.4" y2="268.6" stroke="#111" stroke-width="1.8"/>
<text x="36.1" y="283.7" font-size="15" text-anchor="start" fill="#000" stroke="#000" stroke-width="0.18" >(b)</text>
<text x="40.2" y="373.1" font-size="10.9" text-anchor="start" fill="#000" stroke="#000" stroke-width="0.18" >24.84%</text>
<text x="51" y="429.5" font-size="11.2" text-anchor="start" fill="#000" stroke="#000" stroke-width="0.18" >Cracking</text>
<text x="69.8" y="465.9" font-size="13.3" text-anchor="start" fill="#000" stroke="#000" stroke-width="0.18" >Stage I</text>
<text x="101.8" y="477.7" font-size="13.3" text-anchor="start" fill="#000" stroke="#000" stroke-width="0.18" >20.5h</text>
<text x="155.8" y="465.9" font-size="13.3" text-anchor="start" fill="#000" stroke="#000" stroke-width="0.18" >Stage II</text>
<text x="229.8" y="465.9" font-size="13.3" text-anchor="start" fill="#000" stroke="#000" stroke-width="0.18" >Stage III</text>
<text x="182" y="292.7" font-size="13.3" text-anchor="start" fill="#000" stroke="#000" stroke-width="0.18" >Initial cracks</text>
<line x1="65.8" y1="415.1" x2="96.87" y2="382.35" stroke="#000" stroke-width="1.35"/>
<polygon points="101,378 97.71,384.52 94.66,381.63" fill="#000"/>
<line x1="239.1" y1="294.3" x2="277.6" y2="294.3" stroke="#000" stroke-width="0.6"/>
<polygon points="281.1,294.3 276.6,295.6 276.6,293" fill="#000"/>
<line x1="236.8" y1="295.7" x2="217.46" y2="337.72" stroke="#000" stroke-width="0.6"/>
<polygon points="216,340.9 216.7,336.27 219.06,337.36" fill="#000"/>
<text x="199.6" y="405.1" font-size="11.2" text-anchor="start" fill="#000" stroke="#000" stroke-width="0.18" ><tspan font-style="italic">R</tspan><tspan dy="-4.48" font-size="7.39">2</tspan><tspan dy="4.48" dx="1.34" font-weight="normal" stroke="none" textLength="10.08" lengthAdjust="spacingAndGlyphs">=</tspan><tspan dx="1.12">0.965</tspan></text>
</g>
<g id="panel-e">
<defs><radialGradient id="ge" cx="0.6" cy="0.55" r="0.85"><stop offset="0" stop-color="#e9ae7c"/><stop offset="0.6" stop-color="#e1a06a"/><stop offset="1" stop-color="#c9844e"/></radialGradient></defs>
<filter id="te" x="0" y="0" width="1" height="1" color-interpolation-filters="sRGB"><feTurbulence type="fractalNoise" baseFrequency="0.55" numOctaves="3" seed="3"/><feColorMatrix type="matrix" values="1 0 0 0 0  1 0 0 0 0  1 0 0 0 0  0 0 0 0 1" result="n"/><feComposite in="SourceGraphic" in2="n" operator="arithmetic" k1="0" k2="1" k3="0.07" k4="-0.035"/></filter>
<rect x="554.5" y="276" width="86.1" height="85.5" fill="url(#ge)" filter="url(#te)"/>
<rect x="554.5" y="276" width="86.1" height="85.5" fill="none" stroke="#5e4e46" stroke-width="0.9"/>
<ellipse cx="611" cy="319.1" rx="8.8" ry="4.5" transform="rotate(-5 611 319.1)" fill="none" stroke="#2525e8" stroke-width="1.1" stroke-dasharray="3.4 2"/>
<ellipse cx="588.9" cy="330.7" rx="8.8" ry="4.5" transform="rotate(-10 588.9 330.7)" fill="none" stroke="#2525e8" stroke-width="1.1" stroke-dasharray="3.4 2"/>
<rect x="593.4" y="364.3" width="47.3" height="19.3" fill="#fae2c4" stroke="#555" stroke-width="0.8"/>
<text x="617.05" y="378.8" font-size="13.3" text-anchor="middle" fill="#000" stroke="#000" stroke-width="0.18" >MQS40</text>
<path d="M385.5 395.5H439.2V481.5" fill="none" stroke="#f2933f" stroke-width="1.3" stroke-dasharray="5.2 4.6"/>
<line x1="472.4" y1="326.6" x2="472.4" y2="481.5" stroke="#4562fa" stroke-width="1.5" stroke-dasharray="6 4.4"/>
<line x1="541.1" y1="447" x2="541.1" y2="481.5" stroke="#4562fa" stroke-width="1.5" stroke-dasharray="6 4.4"/>
<line x1="385.5" y1="469.2" x2="650.7" y2="469.2" stroke="#2040ff" stroke-width="0.7"/>
<polygon points="385.5,469.2 391,467.7 391,470.7" fill="#2040ff"/>
<polygon points="472.4,469.2 466.9,470.7 466.9,467.7" fill="#2040ff"/>
<polygon points="472.4,469.2 477.9,467.7 477.9,470.7" fill="#2040ff"/>
<polygon points="541.1,469.2 535.6,470.7 535.6,467.7" fill="#2040ff"/>
<polygon points="541.1,469.2 546.6,467.7 546.6,470.7" fill="#2040ff"/>
<polygon points="650.7,469.2 645.2,470.7 645.2,467.7" fill="#2040ff"/>
<polyline points="397.23,357.73 402.46,362.5 407.69,367.28 412.93,372.05 418.16,376.83 423.39,381.62 428.63,386.4 433.86,391.19 439.09,395.97 444.32,400.8 449.56,405.67 454.79,410.55 460.02,415.4 465.26,420.19 470.49,424.88 475.72,429.47 480.95,434.29 486.19,439.09 491.42,443.53 496.65,447.26 501.89,450.06 507.12,452.39 512.35,454.18 517.58,455.44 522.82,456.57 528.05,457.6 533.28,458.5 538.52,459.22 543.75,459.74 548.98,460.02 554.21,460.12 559.45,460.2 564.68,460.27 569.91,460.32 575.15,460.36 580.38,460.39 585.61,460.4" fill="none" stroke="#d20808" stroke-width="1.1"/>
<path d="M395.13 355.62h4.2v4.2h-4.2zM400.36 360.4h4.2v4.2h-4.2zM405.59 365.18h4.2v4.2h-4.2zM410.83 369.95h4.2v4.2h-4.2zM416.06 374.73h4.2v4.2h-4.2zM421.29 379.52h4.2v4.2h-4.2zM426.53 384.3h4.2v4.2h-4.2zM431.76 389.09h4.2v4.2h-4.2zM436.99 393.87h4.2v4.2h-4.2zM442.22 398.7h4.2v4.2h-4.2zM447.46 403.57h4.2v4.2h-4.2zM452.69 408.45h4.2v4.2h-4.2zM457.92 413.3h4.2v4.2h-4.2zM463.16 418.09h4.2v4.2h-4.2zM468.39 422.78h4.2v4.2h-4.2zM473.62 427.37h4.2v4.2h-4.2zM478.85 432.19h4.2v4.2h-4.2zM484.09 436.99h4.2v4.2h-4.2zM489.32 441.43h4.2v4.2h-4.2zM494.55 445.16h4.2v4.2h-4.2zM499.79 447.96h4.2v4.2h-4.2zM505.02 450.29h4.2v4.2h-4.2zM510.25 452.08h4.2v4.2h-4.2zM515.48 453.34h4.2v4.2h-4.2zM520.72 454.47h4.2v4.2h-4.2zM525.95 455.5h4.2v4.2h-4.2zM531.18 456.4h4.2v4.2h-4.2zM536.42 457.12h4.2v4.2h-4.2zM541.65 457.64h4.2v4.2h-4.2zM546.88 457.92h4.2v4.2h-4.2zM552.11 458.02h4.2v4.2h-4.2zM557.35 458.1h4.2v4.2h-4.2zM562.58 458.17h4.2v4.2h-4.2zM567.81 458.22h4.2v4.2h-4.2zM573.05 458.26h4.2v4.2h-4.2zM578.28 458.29h4.2v4.2h-4.2zM583.51 458.3h4.2v4.2h-4.2z" fill="#d20808"/>
<g fill="#1170b8">
<circle cx="396.3" cy="318.6" r="2.4"/>
<circle cx="401.3" cy="319.6" r="2.4"/>
<circle cx="406.1" cy="312.5" r="2.4"/>
<circle cx="411.1" cy="332.4" r="2.4"/>
<circle cx="417.1" cy="315.8" r="2.4"/>
<circle cx="421.9" cy="317.1" r="2.4"/>
<circle cx="426.9" cy="307.3" r="2.4"/>
<circle cx="431.7" cy="316.8" r="2.4"/>
<circle cx="436.5" cy="307.3" r="2.4"/>
<circle cx="441.5" cy="318.6" r="2.4"/>
<circle cx="446.3" cy="323.1" r="2.4"/>
<circle cx="451" cy="318.6" r="2.4"/>
<circle cx="457.3" cy="322.1" r="2.4"/>
<circle cx="462.1" cy="311.8" r="2.4"/>
<circle cx="468.1" cy="318.6" r="2.4"/>
<circle cx="473.2" cy="321.8" r="2.4"/>
<circle cx="477.9" cy="316.6" r="2.4"/>
<circle cx="482.7" cy="344.7" r="2.4"/>
<circle cx="487.7" cy="358.8" r="2.4"/>
<circle cx="492.5" cy="370.8" r="2.4"/>
<circle cx="497.3" cy="385.7" r="2.4"/>
<circle cx="502" cy="387.5" r="2.4"/>
<circle cx="508.1" cy="393.8" r="2.4"/>
<circle cx="512.8" cy="418.2" r="2.4"/>
<circle cx="517.5" cy="427" r="2.4"/>
<circle cx="522.5" cy="428.7" r="2.4"/>
<circle cx="527.3" cy="437" r="2.4"/>
<circle cx="532.6" cy="440.8" r="2.4"/>
<circle cx="537.4" cy="446.3" r="2.4"/>
<circle cx="542.1" cy="448.3" r="2.4"/>
<circle cx="547.2" cy="448.3" r="2.4"/>
<circle cx="552" cy="448.3" r="2.4"/>
<circle cx="557" cy="448.3" r="2.4"/>
<circle cx="561.7" cy="449.1" r="2.4"/>
<circle cx="566.5" cy="449.1" r="2.4"/>
<circle cx="571.3" cy="449.3" r="2.4"/>
<circle cx="576" cy="449.3" r="2.4"/>
</g>
<polyline points="397.23,316.42 398.73,316.42 400.22,316.43 401.72,316.43 403.22,316.44 404.72,316.44 406.21,316.45 407.71,316.46 409.21,316.47 410.71,316.48 412.2,316.49 413.7,316.51 415.2,316.52 416.7,316.54 418.19,316.56 419.69,316.58 421.19,316.61 422.69,316.64 424.18,316.67 425.68,316.71 427.18,316.75 428.68,316.79 430.17,316.85 431.67,316.91 433.17,316.97 434.67,317.05 436.16,317.14 437.66,317.23 439.16,317.34 440.66,317.47 442.15,317.61 443.65,317.76 445.15,317.94 446.65,318.14 448.14,318.37 449.64,318.62 451.14,318.91 452.64,319.23 454.13,319.59 455.63,320 457.13,320.45 458.63,320.96 460.12,321.54 461.62,322.18 463.12,322.9 464.62,323.7 466.11,324.59 467.61,325.59 469.11,326.7 470.61,327.92 472.1,329.28 473.6,330.78 475.1,332.43 476.59,334.24 478.09,336.22 479.59,338.38 481.09,340.72 482.58,343.24 484.08,345.96 485.58,348.87 487.08,351.97 488.57,355.25 490.07,358.7 491.57,362.3 493.07,366.04 494.56,369.9 496.06,373.85 497.56,377.87 499.06,381.91 500.55,385.97 502.05,390 503.55,393.97 505.05,397.87 506.54,401.65 508.04,405.3 509.54,408.8 511.04,412.14 512.53,415.3 514.03,418.28 515.53,421.06 517.03,423.65 518.52,426.06 520.02,428.28 521.52,430.31 523.02,432.18 524.51,433.88 526.01,435.43 527.51,436.84 529.01,438.11 530.5,439.25 532,440.29 533.5,441.21 535,442.05 536.49,442.79 537.99,443.46 539.49,444.06 540.99,444.59 542.48,445.06 543.98,445.49 545.48,445.86 546.98,446.2 548.47,446.49 549.97,446.76 551.47,446.99 552.97,447.2 554.46,447.39 555.96,447.55 557.46,447.7 558.96,447.82 560.45,447.94 561.95,448.04 563.45,448.13 564.95,448.21 566.44,448.28 567.94,448.34 569.44,448.4 570.94,448.45 572.43,448.49 573.93,448.53 575.43,448.56" fill="none" stroke="#2a64ad" stroke-width="1.6"/>
<line x1="384.5" y1="268.6" x2="651.8" y2="268.6" stroke="#111" stroke-width="1.7"/>
<line x1="384.5" y1="482.5" x2="651.8" y2="482.5" stroke="#111" stroke-width="1.8"/>
<path d="M397.23 482.5v-4.5M422.69 482.5v-2.5M448.14 482.5v-4.5M473.6 482.5v-2.5M499.06 482.5v-4.5M524.51 482.5v-2.5M549.97 482.5v-4.5M575.43 482.5v-2.5M600.89 482.5v-4.5M626.34 482.5v-2.5" stroke="#111" stroke-width="1.6" fill="none"/>
<text x="397.23" y="496.5" font-size="13.5" text-anchor="middle" fill="#000" stroke="#000" stroke-width="0.18" >0</text>
<text x="448.14" y="496.5" font-size="13.5" text-anchor="middle" fill="#000" stroke="#000" stroke-width="0.18" >20</text>
<text x="499.06" y="496.5" font-size="13.5" text-anchor="middle" fill="#000" stroke="#000" stroke-width="0.18" >40</text>
<text x="549.97" y="496.5" font-size="13.5" text-anchor="middle" fill="#000" stroke="#000" stroke-width="0.18" >60</text>
<text x="600.89" y="496.5" font-size="13.5" text-anchor="middle" fill="#000" stroke="#000" stroke-width="0.18" >80</text>
<text x="651.8" y="496.5" font-size="13.5" text-anchor="middle" fill="#000" stroke="#000" stroke-width="0.18" >100</text>
<text x="518.15" y="513.7" font-size="15.3" text-anchor="middle" fill="#000" stroke="#000" stroke-width="0.18" >Time, h</text>
<line x1="384.5" y1="267.75" x2="384.5" y2="483.4" stroke="#c80a0a" stroke-width="1.8"/>
<path d="M384.5 482.5h2.6M384.5 464.68h4.6M384.5 446.85h2.6M384.5 429.02h4.6M384.5 411.2h2.6M384.5 393.38h4.6M384.5 375.55h2.6M384.5 357.73h4.6M384.5 339.9h2.6M384.5 322.08h4.6M384.5 304.25h2.6M384.5 286.43h4.6" stroke="#c80a0a" stroke-width="1.6" fill="none"/>
<text x="379.5" y="468.98" font-size="13.5" text-anchor="end" fill="#c80a0a" stroke="#c80a0a" stroke-width="0.18" >0</text>
<text x="379.5" y="433.32" font-size="13.5" text-anchor="end" fill="#c80a0a" stroke="#c80a0a" stroke-width="0.18" >10</text>
<text x="379.5" y="397.68" font-size="13.5" text-anchor="end" fill="#c80a0a" stroke="#c80a0a" stroke-width="0.18" >20</text>
<text x="379.5" y="362.03" font-size="13.5" text-anchor="end" fill="#c80a0a" stroke="#c80a0a" stroke-width="0.18" >30</text>
<text x="379.5" y="326.38" font-size="13.5" text-anchor="end" fill="#c80a0a" stroke="#c80a0a" stroke-width="0.18" >40</text>
<text x="379.5" y="290.73" font-size="13.5" text-anchor="end" fill="#c80a0a" stroke="#c80a0a" stroke-width="0.18" >50</text>
<text x="360.8" y="379.35" font-size="15.4" text-anchor="middle" fill="#000" stroke="#000" stroke-width="0.18" transform="rotate(-90 360.8 379.35)">Moisture content, %</text>
<line x1="651.8" y1="267.75" x2="651.8" y2="483.4" stroke="#1b76b9" stroke-width="1.9"/>
<path d="M651.8 473.4h-2.6M651.8 450.64h-4.6M651.8 427.89h-2.6M651.8 405.13h-4.6M651.8 382.38h-2.6M651.8 359.62h-4.6M651.8 336.87h-2.6M651.8 314.11h-4.6M651.8 291.36h-2.6M651.8 268.6h-4.6" stroke="#1b76b9" stroke-width="1.6" fill="none"/>
<text x="656.8" y="454.54" font-size="13.5" text-anchor="start" fill="#1b76b9" stroke="#1b76b9" stroke-width="0.18" >0</text>
<text x="656.8" y="409.03" font-size="13.5" text-anchor="start" fill="#1b76b9" stroke="#1b76b9" stroke-width="0.18" >1</text>
<text x="656.8" y="363.52" font-size="13.5" text-anchor="start" fill="#1b76b9" stroke="#1b76b9" stroke-width="0.18" >2</text>
<text x="656.8" y="318.01" font-size="13.5" text-anchor="start" fill="#1b76b9" stroke="#1b76b9" stroke-width="0.18" >3</text>
<text x="656.8" y="272.5" font-size="13.5" text-anchor="start" fill="#1b76b9" stroke="#1b76b9" stroke-width="0.18" >4</text>
<text x="681.8" y="373.05" font-size="15.4" text-anchor="middle" fill="#000" stroke="#000" stroke-width="0.18" transform="rotate(-90 681.8 373.05)">Evaporation rate, g·h<tspan dy="-6.2" font-size="9.5" font-weight="normal">-1</tspan></text>
<line x1="383.6" y1="268.6" x2="647.2" y2="268.6" stroke="#111" stroke-width="1.8"/>
<text x="386.1" y="283.7" font-size="15" text-anchor="start" fill="#000" stroke="#000" stroke-width="0.18" >(e)</text>
<text x="389.5" y="394.5" font-size="13.2" text-anchor="start" fill="#000" stroke="#000" stroke-width="0.18" >17.95%</text>
<text x="387.7" y="439" font-size="13.3" text-anchor="start" fill="#000" stroke="#000" stroke-width="0.18" >Cracking</text>
<text x="407.8" y="465.9" font-size="13.3" text-anchor="start" fill="#000" stroke="#000" stroke-width="0.18" >Stage I</text>
<text x="441.5" y="477.7" font-size="13.3" text-anchor="start" fill="#000" stroke="#000" stroke-width="0.18" >18.5h</text>
<text x="486.7" y="465.9" font-size="13.3" text-anchor="start" fill="#000" stroke="#000" stroke-width="0.18" >Stage II</text>
<text x="575.8" y="465.9" font-size="13.3" text-anchor="start" fill="#000" stroke="#000" stroke-width="0.18" >Stage III</text>
<text x="566.3" y="358.5" font-size="13.3" text-anchor="start" fill="#000" stroke="#000" stroke-width="0.18" >Initial cracks</text>
<line x1="415.9" y1="426.2" x2="435.26" y2="401.89" stroke="#000" stroke-width="1.35"/>
<polygon points="439,397.2 436.28,403.98 433,401.37" fill="#000"/>
<text x="520.5" y="406.8" font-size="13.3" text-anchor="start" fill="#000" stroke="#000" stroke-width="0.18" ><tspan font-style="italic">R</tspan><tspan dy="-5.32" font-size="8.78">2</tspan><tspan dy="5.32" dx="1.6" font-weight="normal" stroke="none" textLength="11.97" lengthAdjust="spacingAndGlyphs">=</tspan><tspan dx="1.33">0.987</tspan></text>
</g>
<g id="panel-c">
<defs><radialGradient id="gc" cx="0.5" cy="0.5" r="0.75"><stop offset="0" stop-color="#e59d70"/><stop offset="0.6" stop-color="#e0956a"/><stop offset="1" stop-color="#d5865a"/></radialGradient></defs>
<filter id="tc" x="0" y="0" width="1" height="1" color-interpolation-filters="sRGB"><feTurbulence type="fractalNoise" baseFrequency="0.55" numOctaves="3" seed="3"/><feColorMatrix type="matrix" values="1 0 0 0 0  1 0 0 0 0  1 0 0 0 0  0 0 0 0 1" result="n"/><feComposite in="SourceGraphic" in2="n" operator="arithmetic" k1="0" k2="1" k3="0.07" k4="-0.035"/></filter>
<rect x="206.4" y="529.3" width="86.6" height="86.2" fill="url(#gc)" filter="url(#tc)"/>
<rect x="206.4" y="529.3" width="86.6" height="86.2" fill="none" stroke="#5e4e46" stroke-width="0.9"/>
<ellipse cx="217.7" cy="594.9" rx="7.5" ry="16.3" transform="rotate(0 217.7 594.9)" fill="none" stroke="#2525e8" stroke-width="0.9" stroke-dasharray="3.4 2"/>
<rect x="247.9" y="616.8" width="45.1" height="18.8" fill="#fae2c4" stroke="#555" stroke-width="0.8"/>
<text x="270.45" y="630.8" font-size="13.3" text-anchor="middle" fill="#000" stroke="#000" stroke-width="0.18" >CQS20</text>
<path d="M35.5 623H101.5V735.1" fill="none" stroke="#f2933f" stroke-width="1.3" stroke-dasharray="5.2 4.6"/>
<line x1="138.3" y1="574" x2="138.3" y2="735.1" stroke="#4562fa" stroke-width="1.5" stroke-dasharray="6 4.4"/>
<line x1="198.4" y1="689.4" x2="198.4" y2="735.1" stroke="#4562fa" stroke-width="1.5" stroke-dasharray="6 4.4"/>
<line x1="35.5" y1="720.4" x2="290.8" y2="720.4" stroke="#2040ff" stroke-width="0.7"/>
<polygon points="35.5,720.4 41,718.9 41,721.9" fill="#2040ff"/>
<polygon points="138.3,720.4 132.8,721.9 132.8,718.9" fill="#2040ff"/>
<polygon points="138.3,720.4 143.8,718.9 143.8,721.9" fill="#2040ff"/>
<polygon points="198.4,720.4 192.9,721.9 192.9,718.9" fill="#2040ff"/>
<polygon points="198.4,720.4 203.9,718.9 203.9,721.9" fill="#2040ff"/>
<polygon points="290.8,720.4 285.3,721.9 285.3,718.9" fill="#2040ff"/>
<polyline points="46.66,573.13 52.1,577.75 57.54,582.46 62.99,587.25 68.43,592.11 73.87,597.06 79.31,602.07 84.76,607.15 90.2,612.29 95.64,617.5 101.09,622.76 106.53,628.11 111.97,633.6 117.41,639.19 122.86,644.86 128.3,650.58 133.74,656.31 139.18,662.09 144.63,668.26 150.07,673.68 155.51,678.04 160.95,681.88 166.4,685 171.84,687.31 177.28,689.23 182.73,690.86 188.17,692.28 193.61,693.56 199.05,694.7 204.5,695.73 209.94,696.66 215.38,697.51 220.82,698.33 226.27,699.16 231.71,699.91 237.15,700.51 242.59,700.86 248.04,701.11 253.48,701.34 258.92,701.53 264.36,701.68 269.81,701.77 275.25,701.81" fill="none" stroke="#d20808" stroke-width="1.1"/>
<path d="M44.56 571.03h4.2v4.2h-4.2zM50 575.65h4.2v4.2h-4.2zM55.44 580.36h4.2v4.2h-4.2zM60.89 585.15h4.2v4.2h-4.2zM66.33 590.01h4.2v4.2h-4.2zM71.77 594.96h4.2v4.2h-4.2zM77.21 599.97h4.2v4.2h-4.2zM82.66 605.05h4.2v4.2h-4.2zM88.1 610.19h4.2v4.2h-4.2zM93.54 615.4h4.2v4.2h-4.2zM98.99 620.66h4.2v4.2h-4.2zM104.43 626.01h4.2v4.2h-4.2zM109.87 631.5h4.2v4.2h-4.2zM115.31 637.09h4.2v4.2h-4.2zM120.76 642.76h4.2v4.2h-4.2zM126.2 648.48h4.2v4.2h-4.2zM131.64 654.21h4.2v4.2h-4.2zM137.08 659.99h4.2v4.2h-4.2zM142.53 666.16h4.2v4.2h-4.2zM147.97 671.58h4.2v4.2h-4.2zM153.41 675.94h4.2v4.2h-4.2zM158.85 679.78h4.2v4.2h-4.2zM164.3 682.9h4.2v4.2h-4.2zM169.74 685.21h4.2v4.2h-4.2zM175.18 687.13h4.2v4.2h-4.2zM180.63 688.76h4.2v4.2h-4.2zM186.07 690.18h4.2v4.2h-4.2zM191.51 691.46h4.2v4.2h-4.2zM196.95 692.6h4.2v4.2h-4.2zM202.4 693.63h4.2v4.2h-4.2zM207.84 694.56h4.2v4.2h-4.2zM213.28 695.41h4.2v4.2h-4.2zM218.72 696.23h4.2v4.2h-4.2zM224.17 697.06h4.2v4.2h-4.2zM229.61 697.81h4.2v4.2h-4.2zM235.05 698.41h4.2v4.2h-4.2zM240.49 698.76h4.2v4.2h-4.2zM245.94 699.01h4.2v4.2h-4.2zM251.38 699.24h4.2v4.2h-4.2zM256.82 699.43h4.2v4.2h-4.2zM262.26 699.58h4.2v4.2h-4.2zM267.71 699.67h4.2v4.2h-4.2zM273.15 699.71h4.2v4.2h-4.2z" fill="#d20808"/>
<g fill="#1170b8">
<circle cx="46.5" cy="566.3" r="2.4"/>
<circle cx="51.5" cy="569.5" r="2.4"/>
<circle cx="57.5" cy="565.5" r="2.4"/>
<circle cx="62.3" cy="608" r="2.4"/>
<circle cx="68.3" cy="596.7" r="2.4"/>
<circle cx="73.4" cy="603.5" r="2.4"/>
<circle cx="79.4" cy="558" r="2.4"/>
<circle cx="84.4" cy="568.5" r="2.4"/>
<circle cx="89.2" cy="570.6" r="2.4"/>
<circle cx="96.5" cy="561.3" r="2.4"/>
<circle cx="101.5" cy="570.6" r="2.4"/>
<circle cx="106.3" cy="553.7" r="2.4"/>
<circle cx="112.3" cy="572.3" r="2.4"/>
<circle cx="118.3" cy="566.3" r="2.4"/>
<circle cx="124.4" cy="551.5" r="2.4"/>
<circle cx="130.4" cy="559.5" r="2.4"/>
<circle cx="136.4" cy="589.1" r="2.4"/>
<circle cx="142.7" cy="567" r="2.4"/>
<circle cx="146.2" cy="570.8" r="2.4"/>
<circle cx="152.3" cy="580.6" r="2.4"/>
<circle cx="157.3" cy="583.1" r="2.4"/>
<circle cx="163.3" cy="624.3" r="2.4"/>
<circle cx="168.3" cy="648" r="2.4"/>
<circle cx="173.2" cy="661.4" r="2.4"/>
<circle cx="179" cy="666.1" r="2.4"/>
<circle cx="185.1" cy="669.4" r="2.4"/>
<circle cx="191.1" cy="674.4" r="2.4"/>
<circle cx="197.1" cy="676.4" r="2.4"/>
<circle cx="203.4" cy="678.9" r="2.4"/>
<circle cx="208.4" cy="679.7" r="2.4"/>
<circle cx="213" cy="682" r="2.4"/>
<circle cx="218" cy="685" r="2.4"/>
<circle cx="223" cy="689" r="2.4"/>
<circle cx="229" cy="691.2" r="2.4"/>
<circle cx="234.8" cy="692.5" r="2.4"/>
<circle cx="241.1" cy="697" r="2.4"/>
<circle cx="245.9" cy="699.5" r="2.4"/>
<circle cx="251.9" cy="700.3" r="2.4"/>
<circle cx="258.2" cy="700.8" r="2.4"/>
<circle cx="265.7" cy="701.5" r="2.4"/>
<circle cx="270.7" cy="702.8" r="2.4"/>
<circle cx="275.8" cy="702.8" r="2.4"/>
</g>
<polyline points="46.66,571.35 48.58,571.35 50.5,571.35 52.42,571.35 54.34,571.35 56.26,571.35 58.18,571.35 60.11,571.35 62.03,571.35 63.95,571.35 65.87,571.35 67.79,571.35 69.71,571.35 71.63,571.35 73.55,571.35 75.47,571.35 77.39,571.35 79.31,571.35 81.24,571.35 83.16,571.35 85.08,571.35 87,571.35 88.92,571.35 90.84,571.35 92.76,571.35 94.68,571.35 96.6,571.36 98.52,571.36 100.45,571.36 102.37,571.36 104.29,571.36 106.21,571.37 108.13,571.37 110.05,571.38 111.97,571.39 113.89,571.4 115.81,571.42 117.73,571.44 119.65,571.47 121.58,571.51 123.5,571.57 125.42,571.64 127.34,571.73 129.26,571.85 131.18,572.01 133.1,572.23 135.02,572.51 136.94,572.89 138.86,573.38 140.78,574.02 142.71,574.87 144.63,575.97 146.55,577.4 148.47,579.24 150.39,581.59 152.31,584.57 154.23,588.27 156.15,592.79 158.07,598.22 159.99,604.56 161.92,611.74 163.84,619.62 165.76,627.94 167.68,636.4 169.6,644.66 171.52,652.43 173.44,659.48 175.36,665.66 177.28,670.92 179.2,675.3 181.12,678.86 183.05,681.71 184.97,683.97 186.89,685.73 188.81,687.1 190.73,688.15 192.65,688.96 194.57,689.57 196.49,690.04 198.41,690.39 200.33,690.66 202.25,690.87 204.18,691.02 206.1,691.14 208.02,691.23 209.94,691.29 211.86,691.35 213.78,691.38 215.7,691.41 217.62,691.43 219.54,691.45 221.46,691.46 223.38,691.47 225.31,691.48 227.23,691.48 229.15,691.49 231.07,691.49 232.99,691.49 234.91,691.49 236.83,691.5 238.75,691.5 240.67,691.5 242.59,691.5 244.52,691.5 246.44,691.5 248.36,691.5 250.28,691.5 252.2,691.5 254.12,691.5 256.04,691.5 257.96,691.5 259.88,691.5 261.8,691.5 263.72,691.5 265.65,691.5 267.57,691.5 269.49,691.5 271.41,691.5 273.33,691.5 275.25,691.5" fill="none" stroke="#1271b9" stroke-width="1.7"/>
<line x1="34.5" y1="522.2" x2="302" y2="522.2" stroke="#111" stroke-width="1.7"/>
<line x1="34.5" y1="736.1" x2="302" y2="736.1" stroke="#111" stroke-width="1.8"/>
<path d="M46.66 736.1v-4.5M70.98 736.1v-2.5M95.3 736.1v-4.5M119.61 736.1v-2.5M143.93 736.1v-4.5M168.25 736.1v-2.5M192.57 736.1v-4.5M216.89 736.1v-2.5M241.2 736.1v-4.5M265.52 736.1v-2.5M289.84 736.1v-4.5" stroke="#111" stroke-width="1.6" fill="none"/>
<text x="46.66" y="750.1" font-size="13.5" text-anchor="middle" fill="#000" stroke="#000" stroke-width="0.18" >0</text>
<text x="95.3" y="750.1" font-size="13.5" text-anchor="middle" fill="#000" stroke="#000" stroke-width="0.18" >20</text>
<text x="143.93" y="750.1" font-size="13.5" text-anchor="middle" fill="#000" stroke="#000" stroke-width="0.18" >40</text>
<text x="192.57" y="750.1" font-size="13.5" text-anchor="middle" fill="#000" stroke="#000" stroke-width="0.18" >60</text>
<text x="241.2" y="750.1" font-size="13.5" text-anchor="middle" fill="#000" stroke="#000" stroke-width="0.18" >80</text>
<text x="289.84" y="750.1" font-size="13.5" text-anchor="middle" fill="#000" stroke="#000" stroke-width="0.18" >100</text>
<text x="168.25" y="767.3" font-size="15.3" text-anchor="middle" fill="#000" stroke="#000" stroke-width="0.18" >Time, h</text>
<line x1="34.5" y1="521.35" x2="34.5" y2="737" stroke="#c80a0a" stroke-width="1.8"/>
<path d="M34.5 725.91h2.6M34.5 708.94h4.6M34.5 691.96h2.6M34.5 674.99h4.6M34.5 658.01h2.6M34.5 641.03h4.6M34.5 624.06h2.6M34.5 607.08h4.6M34.5 590.1h2.6M34.5 573.13h4.6M34.5 556.15h2.6M34.5 539.18h4.6" stroke="#c80a0a" stroke-width="1.6" fill="none"/>
<text x="29.5" y="713.24" font-size="13.5" text-anchor="end" fill="#c80a0a" stroke="#c80a0a" stroke-width="0.18" >0</text>
<text x="29.5" y="679.29" font-size="13.5" text-anchor="end" fill="#c80a0a" stroke="#c80a0a" stroke-width="0.18" >10</text>
<text x="29.5" y="645.33" font-size="13.5" text-anchor="end" fill="#c80a0a" stroke="#c80a0a" stroke-width="0.18" >20</text>
<text x="29.5" y="611.38" font-size="13.5" text-anchor="end" fill="#c80a0a" stroke="#c80a0a" stroke-width="0.18" >30</text>
<text x="29.5" y="577.43" font-size="13.5" text-anchor="end" fill="#c80a0a" stroke="#c80a0a" stroke-width="0.18" >40</text>
<text x="29.5" y="543.48" font-size="13.5" text-anchor="end" fill="#c80a0a" stroke="#c80a0a" stroke-width="0.18" >50</text>
<text x="10.8" y="632.95" font-size="15.4" text-anchor="middle" fill="#000" stroke="#000" stroke-width="0.18" transform="rotate(-90 10.8 632.95)">Moisture content, %</text>
<line x1="302" y1="521.35" x2="302" y2="737" stroke="#1b76b9" stroke-width="1.9"/>
<path d="M302 727h-2.6M302 704.24h-4.6M302 681.49h-2.6M302 658.73h-4.6M302 635.98h-2.6M302 613.22h-4.6M302 590.47h-2.6M302 567.71h-4.6M302 544.96h-2.6M302 522.2h-4.6" stroke="#1b76b9" stroke-width="1.6" fill="none"/>
<text x="307" y="708.14" font-size="13.5" text-anchor="start" fill="#1b76b9" stroke="#1b76b9" stroke-width="0.18" >0</text>
<text x="307" y="662.63" font-size="13.5" text-anchor="start" fill="#1b76b9" stroke="#1b76b9" stroke-width="0.18" >1</text>
<text x="307" y="617.12" font-size="13.5" text-anchor="start" fill="#1b76b9" stroke="#1b76b9" stroke-width="0.18" >2</text>
<text x="307" y="571.61" font-size="13.5" text-anchor="start" fill="#1b76b9" stroke="#1b76b9" stroke-width="0.18" >3</text>
<text x="307" y="526.1" font-size="13.5" text-anchor="start" fill="#1b76b9" stroke="#1b76b9" stroke-width="0.18" >4</text>
<text x="332" y="626.65" font-size="15.4" text-anchor="middle" fill="#000" stroke="#000" stroke-width="0.18" transform="rotate(-90 332 626.65)">Evaporation rate, g·h<tspan dy="-6.2" font-size="9.5" font-weight="normal">-1</tspan></text>
<line x1="33.6" y1="522.2" x2="297.4" y2="522.2" stroke="#111" stroke-width="1.8"/>
<text x="36.1" y="537.3" font-size="15" text-anchor="start" fill="#000" stroke="#000" stroke-width="0.18" >(c)</text>
<text x="38.9" y="623" font-size="13.3" text-anchor="start" fill="#000" stroke="#000" stroke-width="0.18" >25.3%</text>
<text x="48.2" y="664.4" font-size="13.3" text-anchor="start" fill="#000" stroke="#000" stroke-width="0.18" >Cracking</text>
<text x="71.1" y="717.1" font-size="13.3" text-anchor="start" fill="#000" stroke="#000" stroke-width="0.18" >Stage I</text>
<text x="101.8" y="732.7" font-size="13.3" text-anchor="start" fill="#000" stroke="#000" stroke-width="0.18" >24.5h</text>
<text x="146.5" y="717.1" font-size="13.3" text-anchor="start" fill="#000" stroke="#000" stroke-width="0.18" >Stage II</text>
<text x="227.8" y="717.6" font-size="13.3" text-anchor="start" fill="#000" stroke="#000" stroke-width="0.18" >Stage III</text>
<text x="217.2" y="579.1" font-size="13.3" text-anchor="start" fill="#000" stroke="#000" stroke-width="0.18" >Initial crack</text>
<line x1="72.9" y1="649.3" x2="96.73" y2="628" stroke="#000" stroke-width="1.35"/>
<polygon points="101.2,624 97.38,630.23 94.58,627.1" fill="#000"/>
<line x1="250.4" y1="580.2" x2="229.69" y2="590.39" stroke="#000" stroke-width="1.0"/>
<polygon points="225.2,592.6 229.88,588.52 231.29,591.39" fill="#000"/>
<text x="199.6" y="658.1" font-size="13.3" text-anchor="start" fill="#000" stroke="#000" stroke-width="0.18" ><tspan font-style="italic">R</tspan><tspan dy="-5.32" font-size="8.78">2</tspan><tspan dy="5.32" dx="1.6" font-weight="normal" stroke="none" textLength="11.97" lengthAdjust="spacingAndGlyphs">=</tspan><tspan dx="1.33">0.951</tspan></text>
</g>
<g id="panel-f">
<defs><radialGradient id="gf" cx="0.55" cy="0.55" r="0.75"><stop offset="0" stop-color="#ebb48a"/><stop offset="0.6" stop-color="#d8935c"/><stop offset="1" stop-color="#a85a2a"/></radialGradient></defs>
<filter id="tf" x="0" y="0" width="1" height="1" color-interpolation-filters="sRGB"><feTurbulence type="fractalNoise" baseFrequency="0.55" numOctaves="3" seed="3"/><feColorMatrix type="matrix" values="1 0 0 0 0  1 0 0 0 0  1 0 0 0 0  0 0 0 0 1" result="n"/><feComposite in="SourceGraphic" in2="n" operator="arithmetic" k1="0" k2="1" k3="0.07" k4="-0.035"/></filter>
<rect x="554.3" y="530.2" width="86.4" height="85.4" fill="url(#gf)" filter="url(#tf)"/>
<rect x="554.3" y="530.2" width="86.4" height="85.4" fill="none" stroke="#5e4e46" stroke-width="0.9"/>
<ellipse cx="597.2" cy="558.5" rx="5.8" ry="3.9" transform="rotate(0 597.2 558.5)" fill="none" stroke="#2525e8" stroke-width="0.9" stroke-dasharray="3.4 2"/>
<ellipse cx="604.2" cy="571.7" rx="5.8" ry="3.9" transform="rotate(0 604.2 571.7)" fill="none" stroke="#2525e8" stroke-width="0.9" stroke-dasharray="3.4 2"/>
<rect x="596.4" y="616.8" width="44.6" height="18.8" fill="#fae2c4" stroke="#555" stroke-width="0.8"/>
<text x="618.7" y="630.8" font-size="13.3" text-anchor="middle" fill="#000" stroke="#000" stroke-width="0.18" >CQS40</text>
<path d="M385.5 652.5H444.5V735.1" fill="none" stroke="#f2933f" stroke-width="1.3" stroke-dasharray="5.2 4.6"/>
<line x1="474.2" y1="576.6" x2="474.2" y2="735.1" stroke="#4562fa" stroke-width="1.5" stroke-dasharray="6 4.4"/>
<line x1="535.6" y1="699.5" x2="535.6" y2="735.1" stroke="#4562fa" stroke-width="1.5" stroke-dasharray="6 4.4"/>
<line x1="385.5" y1="722.6" x2="650.7" y2="722.6" stroke="#2040ff" stroke-width="0.7"/>
<polygon points="385.5,722.6 391,721.1 391,724.1" fill="#2040ff"/>
<polygon points="474.2,722.6 468.7,724.1 468.7,721.1" fill="#2040ff"/>
<polygon points="474.2,722.6 479.7,721.1 479.7,724.1" fill="#2040ff"/>
<polygon points="535.6,722.6 530.1,724.1 530.1,721.1" fill="#2040ff"/>
<polygon points="535.6,722.6 541.1,721.1 541.1,724.1" fill="#2040ff"/>
<polygon points="650.7,722.6 645.2,724.1 645.2,721.1" fill="#2040ff"/>
<polyline points="397.23,611.33 402.5,615.87 407.78,620.43 413.05,625 418.32,629.6 423.59,634.21 428.87,638.83 434.14,643.47 439.41,648.12 444.69,652.79 449.96,657.51 455.23,662.29 460.51,667.08 465.78,671.84 471.05,676.5 476.33,681.07 481.6,685.7 486.87,690.27 492.15,694.63 497.42,698.61 502.69,702.25 507.97,705.73 513.24,708.3 518.51,709.71 523.79,710.73 529.06,711.44 534.33,711.97 539.61,712.41 544.88,712.75 550.15,712.93 555.43,713.03 560.7,713.12 565.97,713.19 571.25,713.24 576.52,713.27 581.79,713.28" fill="none" stroke="#d20808" stroke-width="1.1"/>
<path d="M395.13 609.23h4.2v4.2h-4.2zM400.4 613.77h4.2v4.2h-4.2zM405.68 618.33h4.2v4.2h-4.2zM410.95 622.9h4.2v4.2h-4.2zM416.22 627.5h4.2v4.2h-4.2zM421.49 632.11h4.2v4.2h-4.2zM426.77 636.73h4.2v4.2h-4.2zM432.04 641.37h4.2v4.2h-4.2zM437.31 646.02h4.2v4.2h-4.2zM442.59 650.69h4.2v4.2h-4.2zM447.86 655.41h4.2v4.2h-4.2zM453.13 660.19h4.2v4.2h-4.2zM458.41 664.98h4.2v4.2h-4.2zM463.68 669.74h4.2v4.2h-4.2zM468.95 674.4h4.2v4.2h-4.2zM474.23 678.97h4.2v4.2h-4.2zM479.5 683.6h4.2v4.2h-4.2zM484.77 688.17h4.2v4.2h-4.2zM490.05 692.53h4.2v4.2h-4.2zM495.32 696.51h4.2v4.2h-4.2zM500.59 700.15h4.2v4.2h-4.2zM505.87 703.63h4.2v4.2h-4.2zM511.14 706.2h4.2v4.2h-4.2zM516.41 707.61h4.2v4.2h-4.2zM521.69 708.63h4.2v4.2h-4.2zM526.96 709.34h4.2v4.2h-4.2zM532.23 709.87h4.2v4.2h-4.2zM537.51 710.31h4.2v4.2h-4.2zM542.78 710.65h4.2v4.2h-4.2zM548.05 710.83h4.2v4.2h-4.2zM553.33 710.93h4.2v4.2h-4.2zM558.6 711.02h4.2v4.2h-4.2zM563.87 711.09h4.2v4.2h-4.2zM569.15 711.14h4.2v4.2h-4.2zM574.42 711.17h4.2v4.2h-4.2zM579.69 711.18h4.2v4.2h-4.2z" fill="#d20808"/>
<g fill="#1170b8">
<circle cx="396.3" cy="572.8" r="2.4"/>
<circle cx="401.3" cy="566" r="2.4"/>
<circle cx="406.1" cy="579.6" r="2.4"/>
<circle cx="411.1" cy="556" r="2.4"/>
<circle cx="417.1" cy="563.3" r="2.4"/>
<circle cx="421.9" cy="576.8" r="2.4"/>
<circle cx="426.9" cy="581.9" r="2.4"/>
<circle cx="431.7" cy="575.8" r="2.4"/>
<circle cx="436.5" cy="572.3" r="2.4"/>
<circle cx="441.5" cy="575.8" r="2.4"/>
<circle cx="446.3" cy="570.3" r="2.4"/>
<circle cx="451" cy="575.8" r="2.4"/>
<circle cx="457.3" cy="575.8" r="2.4"/>
<circle cx="462.1" cy="566" r="2.4"/>
<circle cx="468.1" cy="571.6" r="2.4"/>
<circle cx="473.2" cy="575.3" r="2.4"/>
<circle cx="477.9" cy="570.3" r="2.4"/>
<circle cx="482.7" cy="567.8" r="2.4"/>
<circle cx="487.7" cy="571.1" r="2.4"/>
<circle cx="492.5" cy="601.5" r="2.4"/>
<circle cx="497.3" cy="629.8" r="2.4"/>
<circle cx="502" cy="646" r="2.4"/>
<circle cx="508.1" cy="656.8" r="2.4"/>
<circle cx="512.8" cy="671.9" r="2.4"/>
<circle cx="517.5" cy="680.7" r="2.4"/>
<circle cx="522.5" cy="687.7" r="2.4"/>
<circle cx="527.3" cy="690.2" r="2.4"/>
<circle cx="532.6" cy="694.5" r="2.4"/>
<circle cx="537.4" cy="699.5" r="2.4"/>
<circle cx="542.1" cy="702" r="2.4"/>
<circle cx="547.2" cy="702" r="2.4"/>
<circle cx="552" cy="702" r="2.4"/>
<circle cx="557" cy="702" r="2.4"/>
<circle cx="561.7" cy="702.5" r="2.4"/>
<circle cx="566.5" cy="702.5" r="2.4"/>
<circle cx="571.3" cy="702.5" r="2.4"/>
</g>
<polyline points="397.23,571.35 398.7,571.35 400.18,571.35 401.66,571.35 403.13,571.35 404.61,571.35 406.09,571.35 407.56,571.35 409.04,571.35 410.51,571.35 411.99,571.35 413.47,571.35 414.94,571.35 416.42,571.35 417.89,571.35 419.37,571.35 420.85,571.36 422.32,571.36 423.8,571.36 425.27,571.36 426.75,571.36 428.23,571.36 429.7,571.36 431.18,571.37 432.65,571.37 434.13,571.37 435.61,571.38 437.08,571.38 438.56,571.39 440.04,571.4 441.51,571.41 442.99,571.42 444.46,571.43 445.94,571.45 447.42,571.47 448.89,571.49 450.37,571.52 451.84,571.55 453.32,571.59 454.8,571.64 456.27,571.7 457.75,571.78 459.22,571.86 460.7,571.97 462.18,572.09 463.65,572.25 465.13,572.43 466.6,572.65 468.08,572.91 469.56,573.23 471.03,573.61 472.51,574.06 473.99,574.6 475.46,575.25 476.94,576.02 478.41,576.94 479.89,578.04 481.37,579.33 482.84,580.85 484.32,582.63 485.79,584.71 487.27,587.12 488.75,589.9 490.22,593.08 491.7,596.67 493.17,600.7 494.65,605.17 496.13,610.05 497.6,615.31 499.08,620.9 500.55,626.74 502.03,632.74 503.51,638.8 504.98,644.81 506.46,650.68 507.94,656.31 509.41,661.62 510.89,666.56 512.36,671.08 513.84,675.18 515.32,678.84 516.79,682.07 518.27,684.91 519.74,687.37 521.22,689.5 522.7,691.32 524.17,692.88 525.65,694.2 527.12,695.32 528.6,696.26 530.08,697.05 531.55,697.72 533.03,698.28 534.5,698.74 535.98,699.13 537.46,699.46 538.93,699.73 540.41,699.95 541.89,700.14 543.36,700.29 544.84,700.42 546.31,700.53 547.79,700.62 549.27,700.69 550.74,700.76 552.22,700.81 553.69,700.85 555.17,700.89 556.65,700.91 558.12,700.94 559.6,700.96 561.07,700.98 562.55,700.99 564.03,701 565.5,701.01 566.98,701.02 568.45,701.02 569.93,701.03 571.41,701.03 572.88,701.04" fill="none" stroke="#2a64ad" stroke-width="1.6"/>
<line x1="384.5" y1="522.2" x2="651.8" y2="522.2" stroke="#111" stroke-width="1.7"/>
<line x1="384.5" y1="736.1" x2="651.8" y2="736.1" stroke="#111" stroke-width="1.8"/>
<path d="M397.23 736.1v-4.5M422.69 736.1v-2.5M448.14 736.1v-4.5M473.6 736.1v-2.5M499.06 736.1v-4.5M524.51 736.1v-2.5M549.97 736.1v-4.5M575.43 736.1v-2.5M600.89 736.1v-4.5M626.34 736.1v-2.5" stroke="#111" stroke-width="1.6" fill="none"/>
<text x="397.23" y="750.1" font-size="13.5" text-anchor="middle" fill="#000" stroke="#000" stroke-width="0.18" >0</text>
<text x="448.14" y="750.1" font-size="13.5" text-anchor="middle" fill="#000" stroke="#000" stroke-width="0.18" >20</text>
<text x="499.06" y="750.1" font-size="13.5" text-anchor="middle" fill="#000" stroke="#000" stroke-width="0.18" >40</text>
<text x="549.97" y="750.1" font-size="13.5" text-anchor="middle" fill="#000" stroke="#000" stroke-width="0.18" >60</text>
<text x="600.89" y="750.1" font-size="13.5" text-anchor="middle" fill="#000" stroke="#000" stroke-width="0.18" >80</text>
<text x="651.8" y="750.1" font-size="13.5" text-anchor="middle" fill="#000" stroke="#000" stroke-width="0.18" >100</text>
<text x="518.15" y="767.3" font-size="15.3" text-anchor="middle" fill="#000" stroke="#000" stroke-width="0.18" >Time, h</text>
<line x1="384.5" y1="521.35" x2="384.5" y2="737" stroke="#c80a0a" stroke-width="1.8"/>
<path d="M384.5 736.1h2.6M384.5 718.27h4.6M384.5 700.45h2.6M384.5 682.62h4.6M384.5 664.8h2.6M384.5 646.98h4.6M384.5 629.15h2.6M384.5 611.33h4.6M384.5 593.5h2.6M384.5 575.68h4.6M384.5 557.85h2.6M384.5 540.03h4.6" stroke="#c80a0a" stroke-width="1.6" fill="none"/>
<text x="379.5" y="722.57" font-size="13.5" text-anchor="end" fill="#c80a0a" stroke="#c80a0a" stroke-width="0.18" >0</text>
<text x="379.5" y="686.92" font-size="13.5" text-anchor="end" fill="#c80a0a" stroke="#c80a0a" stroke-width="0.18" >10</text>
<text x="379.5" y="651.27" font-size="13.5" text-anchor="end" fill="#c80a0a" stroke="#c80a0a" stroke-width="0.18" >20</text>
<text x="379.5" y="615.62" font-size="13.5" text-anchor="end" fill="#c80a0a" stroke="#c80a0a" stroke-width="0.18" >30</text>
<text x="379.5" y="579.98" font-size="13.5" text-anchor="end" fill="#c80a0a" stroke="#c80a0a" stroke-width="0.18" >40</text>
<text x="379.5" y="544.33" font-size="13.5" text-anchor="end" fill="#c80a0a" stroke="#c80a0a" stroke-width="0.18" >50</text>
<text x="360.8" y="632.95" font-size="15.4" text-anchor="middle" fill="#000" stroke="#000" stroke-width="0.18" transform="rotate(-90 360.8 632.95)">Moisture content, %</text>
<line x1="651.8" y1="521.35" x2="651.8" y2="737" stroke="#1b76b9" stroke-width="1.9"/>
<path d="M651.8 727h-2.6M651.8 704.24h-4.6M651.8 681.49h-2.6M651.8 658.73h-4.6M651.8 635.98h-2.6M651.8 613.22h-4.6M651.8 590.47h-2.6M651.8 567.71h-4.6M651.8 544.96h-2.6M651.8 522.2h-4.6" stroke="#1b76b9" stroke-width="1.6" fill="none"/>
<text x="656.8" y="708.14" font-size="13.5" text-anchor="start" fill="#1b76b9" stroke="#1b76b9" stroke-width="0.18" >0</text>
<text x="656.8" y="662.63" font-size="13.5" text-anchor="start" fill="#1b76b9" stroke="#1b76b9" stroke-width="0.18" >1</text>
<text x="656.8" y="617.12" font-size="13.5" text-anchor="start" fill="#1b76b9" stroke="#1b76b9" stroke-width="0.18" >2</text>
<text x="656.8" y="571.61" font-size="13.5" text-anchor="start" fill="#1b76b9" stroke="#1b76b9" stroke-width="0.18" >3</text>
<text x="656.8" y="526.1" font-size="13.5" text-anchor="start" fill="#1b76b9" stroke="#1b76b9" stroke-width="0.18" >4</text>
<text x="681.8" y="626.65" font-size="15.4" text-anchor="middle" fill="#000" stroke="#000" stroke-width="0.18" transform="rotate(-90 681.8 626.65)">Evaporation rate, g·h<tspan dy="-6.2" font-size="9.5" font-weight="normal">-1</tspan></text>
<line x1="383.6" y1="522.2" x2="647.2" y2="522.2" stroke="#111" stroke-width="1.8"/>
<text x="386.1" y="537.3" font-size="15" text-anchor="start" fill="#000" stroke="#000" stroke-width="0.18" >(f)</text>
<text x="388.6" y="649.3" font-size="11.3" text-anchor="start" fill="#000" stroke="#000" stroke-width="0.18" >18.46%</text>
<text x="394.5" y="692.5" font-size="11.2" text-anchor="start" fill="#000" stroke="#000" stroke-width="0.18" >Cracking</text>
<text x="414.6" y="719.1" font-size="13.3" text-anchor="start" fill="#000" stroke="#000" stroke-width="0.18" >Stage I</text>
<text x="446" y="732.7" font-size="13.3" text-anchor="start" fill="#000" stroke="#000" stroke-width="0.18" >18.5h</text>
<text x="482.4" y="719.1" font-size="13.3" text-anchor="start" fill="#000" stroke="#000" stroke-width="0.18" >Stage II</text>
<text x="574.6" y="719.1" font-size="13.3" text-anchor="start" fill="#000" stroke="#000" stroke-width="0.18" >Stage III</text>
<text x="560.2" y="611.8" font-size="13.3" text-anchor="start" fill="#000" stroke="#000" stroke-width="0.18" >Initial cracks</text>
<line x1="417.6" y1="681.2" x2="440.13" y2="657.91" stroke="#000" stroke-width="1.35"/>
<polygon points="444.3,653.6 440.94,660.09 437.92,657.17" fill="#000"/>
<line x1="583.2" y1="597" x2="591.51" y2="568.76" stroke="#000" stroke-width="0.6"/>
<polygon points="593.2,563 592.86,570.2 589.59,569.24" fill="#000"/>
<line x1="583.2" y1="597" x2="597.94" y2="580.92" stroke="#000" stroke-width="0.6"/>
<polygon points="602,576.5 598.52,582.81 596.02,580.51" fill="#000"/>
<text x="520.5" y="658.1" font-size="13.3" text-anchor="start" fill="#000" stroke="#000" stroke-width="0.18" ><tspan font-style="italic">R</tspan><tspan dy="-5.32" font-size="8.78">2</tspan><tspan dy="5.32" dx="1.6" font-weight="normal" stroke="none" textLength="11.97" lengthAdjust="spacingAndGlyphs">=</tspan><tspan dx="1.33">0.988</tspan></text>
</g>
<line x1="341.5" y1="0" x2="341.5" y2="768.3" stroke="#222" stroke-width="1" stroke-dasharray="3.4 1.9"/>
<rect x="121.9" y="774.6" width="434.4" height="20.4" fill="#000"/>
<rect x="118.8" y="771.7" width="434.2" height="19.6" fill="#fff9c9" stroke="#999" stroke-width="0.6"/>
<line x1="120.2" y1="781.6" x2="152.9" y2="781.6" stroke="#d20808" stroke-width="1.1"/>
<rect x="134.6" y="779.6" width="4" height="4" fill="#d20808"/>
<text x="157.3" y="786.4" font-size="14.3" text-anchor="start" fill="#000" stroke="#000" stroke-width="0.18" >Moisture content</text>
<circle cx="281.3" cy="781.6" r="2.4" fill="#1170b8"/>
<text x="302.3" y="786.4" font-size="14.3" text-anchor="start" fill="#000" stroke="#000" stroke-width="0.18" >Evaporation rate</text>
<line x1="409.9" y1="781.6" x2="443.7" y2="781.6" stroke="#2a64ad" stroke-width="1.4"/>
<text x="447.2" y="786.4" font-size="14.3" text-anchor="start" fill="#000" stroke="#000" stroke-width="0.18" >Boltzmann curve</text>
</svg>
</body></html>
